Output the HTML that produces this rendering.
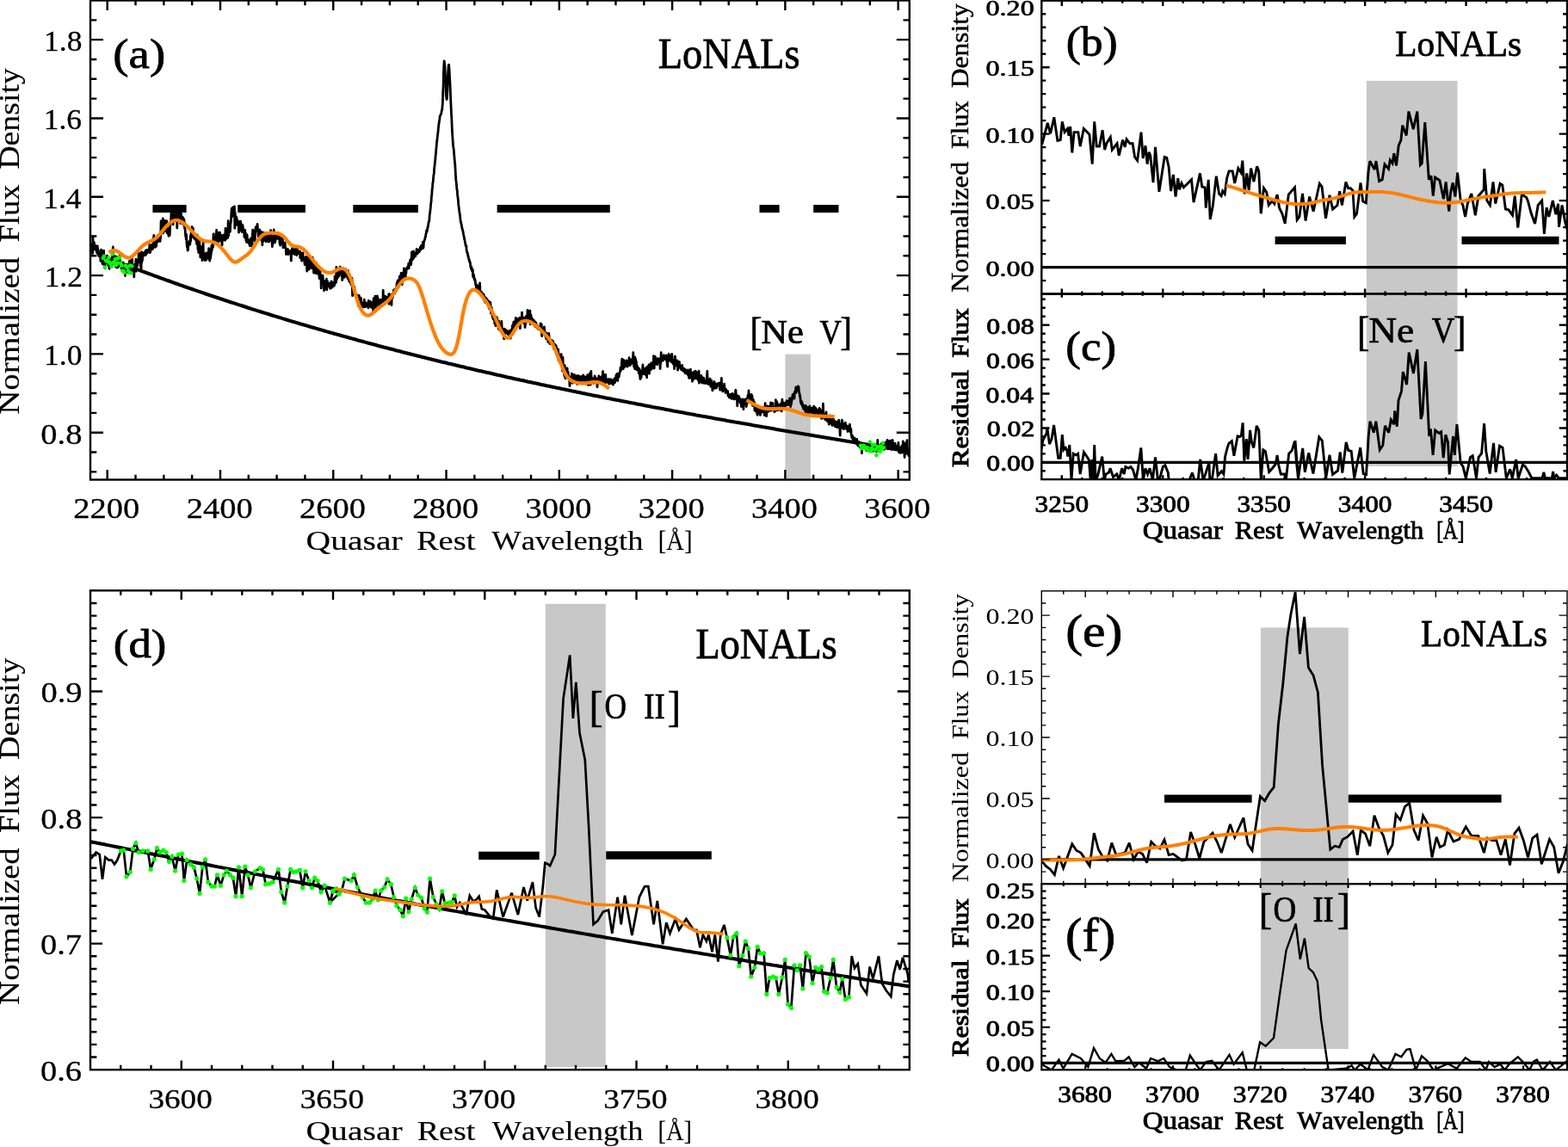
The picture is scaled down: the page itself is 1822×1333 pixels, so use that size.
<!DOCTYPE html>
<html><head><meta charset="utf-8"><title>LoNALs spectra</title><style>html,body{margin:0;padding:0;background:#fff;width:1822px;height:1333px;overflow:hidden}</style></head><body>
<svg width="1822" height="1333" viewBox="0 0 1822 1333" style="display:block;font-kerning:none">
<rect width="1822" height="1333" fill="#fff"/>
<defs><clipPath id="cA"><rect x="105.0" y="0.5" width="951.8" height="557.0"/></clipPath><clipPath id="cB"><rect x="1210.3" y="0.7" width="610.7" height="340.90000000000003"/></clipPath><clipPath id="cC"><rect x="1210.3" y="341.6" width="610.7" height="215.5"/></clipPath><clipPath id="cD"><rect x="105.0" y="686.3" width="951.8" height="556.9000000000001"/></clipPath><clipPath id="cE"><rect x="1210.3" y="686.8" width="610.7" height="340.5"/></clipPath><clipPath id="cF"><rect x="1210.3" y="1027.3" width="610.7" height="216.0"/></clipPath></defs>
<g clip-path="url(#cA)"><rect x="912.4" y="411.7" width="29.4" height="145.8" fill="#c8c8c8"/><path d="M122.0,298.8L125.0,299.9L128.0,301.1L131.0,302.3L134.0,303.4L137.0,304.6L140.0,305.7L143.0,306.9L146.0,308.0L149.0,309.2L152.0,310.3L155.0,311.4L158.0,312.6L161.0,313.7L164.0,314.8L167.0,315.9L170.0,317.0L173.0,318.1L176.0,319.2L179.0,320.3L182.0,321.4L185.0,322.5L188.0,323.6L191.0,324.7L194.0,325.8L197.0,326.8L200.0,327.9L203.0,329.0L206.0,330.0L209.0,331.1L212.0,332.1L215.0,333.2L218.0,334.2L221.0,335.3L224.0,336.3L227.0,337.4L230.0,338.4L233.0,339.4L236.0,340.4L239.0,341.5L242.0,342.5L245.0,343.5L248.0,344.5L251.0,345.5L254.0,346.5L257.0,347.5L260.0,348.5L263.0,349.5L266.0,350.5L269.0,351.5L272.0,352.4L275.0,353.4L278.0,354.4L281.0,355.3L284.0,356.3L287.0,357.3L290.0,358.2L293.0,359.2L296.0,360.1L299.0,361.1L302.0,362.0L305.0,363.0L308.0,363.9L311.0,364.8L314.0,365.8L317.0,366.7L320.0,367.6L323.0,368.5L326.0,369.4L329.0,370.4L332.0,371.3L335.0,372.2L338.0,373.1L341.0,374.0L344.0,374.9L347.0,375.8L350.0,376.7L353.0,377.5L356.0,378.4L359.0,379.3L362.0,380.2L365.0,381.0L368.0,381.9L371.0,382.8L374.0,383.6L377.0,384.5L380.0,385.4L383.0,386.2L386.0,387.1L389.0,387.9L392.0,388.8L395.0,389.6L398.0,390.4L401.0,391.3L404.0,392.1L407.0,392.9L410.0,393.8L413.0,394.6L416.0,395.4L419.0,396.2L422.0,397.0L425.0,397.9L428.0,398.7L431.0,399.5L434.0,400.3L437.0,401.1L440.0,401.9L443.0,402.7L446.0,403.5L449.0,404.2L452.0,405.0L455.0,405.8L458.0,406.6L461.0,407.4L464.0,408.1L467.0,408.9L470.0,409.7L473.0,410.4L476.0,411.2L479.0,412.0L482.0,412.7L485.0,413.5L488.0,414.2L491.0,415.0L494.0,415.7L497.0,416.5L500.0,417.2L503.0,418.0L506.0,418.7L509.0,419.4L512.0,420.2L515.0,420.9L518.0,421.6L521.0,422.4L524.0,423.1L527.0,423.8L530.0,424.5L533.0,425.2L536.0,425.9L539.0,426.6L542.0,427.4L545.0,428.1L548.0,428.8L551.0,429.5L554.0,430.2L557.0,430.9L560.0,431.6L563.0,432.2L566.0,432.9L569.0,433.6L572.0,434.3L575.0,435.0L578.0,435.7L581.0,436.3L584.0,437.0L587.0,437.7L590.0,438.4L593.0,439.0L596.0,439.7L599.0,440.4L602.0,441.0L605.0,441.7L608.0,442.3L611.0,443.0L614.0,443.7L617.0,444.3L620.0,445.0L623.0,445.6L626.0,446.2L629.0,446.9L632.0,447.5L635.0,448.2L638.0,448.8L641.0,449.4L644.0,450.1L647.0,450.7L650.0,451.3L653.0,452.0L656.0,452.6L659.0,453.2L662.0,453.8L665.0,454.5L668.0,455.1L671.0,455.7L674.0,456.3L677.0,456.9L680.0,457.5L683.0,458.2L686.0,458.8L689.0,459.4L692.0,460.0L695.0,460.6L698.0,461.2L701.0,461.8L704.0,462.4L707.0,463.0L710.0,463.6L713.0,464.2L716.0,464.8L719.0,465.3L722.0,465.9L725.0,466.5L728.0,467.1L731.0,467.7L734.0,468.3L737.0,468.8L740.0,469.4L743.0,470.0L746.0,470.6L749.0,471.2L752.0,471.7L755.0,472.3L758.0,472.9L761.0,473.4L764.0,474.0L767.0,474.6L770.0,475.1L773.0,475.7L776.0,476.3L779.0,476.8L782.0,477.4L785.0,477.9L788.0,478.5L791.0,479.1L794.0,479.6L797.0,480.2L800.0,480.7L803.0,481.3L806.0,481.8L809.0,482.4L812.0,482.9L815.0,483.5L818.0,484.0L821.0,484.5L824.0,485.1L827.0,485.6L830.0,486.2L833.0,486.7L836.0,487.3L839.0,487.8L842.0,488.3L845.0,488.9L848.0,489.4L851.0,489.9L854.0,490.5L857.0,491.0L860.0,491.5L863.0,492.1L866.0,492.6L869.0,493.1L872.0,493.6L875.0,494.2L878.0,494.7L881.0,495.2L884.0,495.7L887.0,496.3L890.0,496.8L893.0,497.3L896.0,497.8L899.0,498.3L902.0,498.9L905.0,499.4L908.0,499.9L911.0,500.4L914.0,500.9L917.0,501.4L920.0,502.0L923.0,502.5L926.0,503.0L929.0,503.5L932.0,504.0L935.0,504.5L938.0,505.0L941.0,505.5L944.0,506.0L947.0,506.6L950.0,507.1L953.0,507.6L956.0,508.1L959.0,508.6L962.0,509.1L965.0,509.6L968.0,510.1L971.0,510.6L974.0,511.1L977.0,511.6L980.0,512.1L983.0,512.6L986.0,513.1L989.0,513.6L992.0,514.1L995.0,514.6L998.0,515.1L1001.0,515.6L1004.0,516.1L1007.0,516.6L1010.0,517.1L1013.0,517.6L1016.0,518.1L1019.0,518.6L1022.0,519.1L1025.0,519.6L1028.0,520.1L1031.0,520.6L1034.0,521.1L1037.0,521.6L1040.0,522.1L1043.0,522.6L1046.0,523.1L1049.0,523.6L1052.0,524.1L1055.0,524.6L1056.8,524.9" stroke="#000" stroke-width="4.1" fill="none"/><path d="M105.8,288.9L106.1,284.2L106.5,289.1L106.8,286.6L107.2,289.8L107.6,294.6L107.9,275.0L108.3,287.7L108.6,290.3L109.0,287.3L109.4,281.7L109.7,287.4L110.1,290.1L110.4,290.0L110.8,285.3L111.2,285.6L111.5,289.5L111.9,286.1L112.2,290.9L112.6,293.8L113.0,293.1L113.3,285.8L113.7,295.5L114.0,290.2L114.4,291.5L114.8,297.7L115.1,294.1L115.5,294.4L115.8,295.0L116.2,295.7L116.6,297.8L116.9,303.4L117.3,294.4L117.6,290.2L118.0,301.5L118.4,299.2L118.7,301.7L119.1,306.6L119.4,304.0L119.8,301.4L120.2,305.2L120.5,291.2L120.9,298.0L121.2,310.0L121.6,306.5L122.0,311.9L122.3,304.4L122.7,302.9L123.0,300.8L123.4,304.9L123.8,301.9L124.1,305.4L124.5,297.2L124.8,300.9L125.2,303.2L125.6,304.2L125.9,308.6L126.3,302.5L126.6,304.4L127.0,312.4L127.4,305.2L127.7,308.5L128.1,305.5L128.4,307.4L128.8,308.5L129.2,307.2L129.5,310.1L129.9,301.2L130.2,307.6L130.6,295.0L131.0,300.9L131.3,287.0L131.7,305.6L132.0,298.3L132.4,296.8L132.8,305.1L133.1,301.2L133.5,306.6L133.8,306.3L134.2,309.5L134.6,298.1L134.9,305.3L135.3,310.8L135.6,298.5L136.0,302.4L136.4,306.4L136.7,310.9L137.1,306.2L137.4,308.8L137.8,309.6L138.2,301.2L138.5,303.6L138.9,305.8L139.2,297.1L139.6,308.3L140.0,307.4L140.3,308.2L140.7,307.1L141.0,311.4L141.4,307.6L141.8,314.5L142.1,306.1L142.5,311.6L142.8,304.8L143.2,308.0L143.6,311.0L143.9,307.5L144.3,312.1L144.6,313.9L145.0,310.8L145.4,320.5L145.7,307.1L146.1,308.0L146.4,314.4L146.8,312.9L147.2,307.2L147.5,316.5L147.9,307.4L148.2,311.1L148.6,310.6L149.0,311.6L149.3,314.5L149.7,316.0L150.0,314.9L150.4,303.5L150.8,313.4L151.1,306.5L151.5,310.6L151.8,308.2L152.2,317.1L152.6,310.9L152.9,301.3L153.3,310.6L153.6,301.2L154.0,313.0L154.4,312.4L154.7,313.8L155.1,315.5L155.4,308.7L155.8,321.9L156.2,307.6L156.5,308.8L156.9,313.8L157.2,306.9L157.6,305.9L158.0,301.2L158.3,315.3L158.7,303.6L159.0,305.7L159.4,308.4L159.8,308.7L160.1,305.2L160.5,305.1L160.8,304.0L161.2,293.7L161.6,303.6L161.9,296.8L162.3,304.6L162.6,305.3L163.0,294.9L163.4,310.1L163.7,300.7L164.1,312.6L164.4,292.8L164.8,304.8L165.2,298.5L165.5,302.5L165.9,293.7L166.2,295.7L166.6,295.7L167.0,296.0L167.3,296.8L167.7,296.9L168.0,295.9L168.4,292.9L168.8,292.3L169.1,296.7L169.5,290.8L169.8,295.7L170.2,294.8L170.6,290.7L170.9,294.2L171.3,290.8L171.6,290.4L172.0,293.2L172.4,290.3L172.7,293.2L173.1,293.0L173.4,292.8L173.8,284.7L174.2,293.5L174.5,293.3L174.9,291.7L175.2,286.5L175.6,288.5L176.0,286.9L176.3,284.4L176.7,286.8L177.0,285.9L177.4,289.5L177.8,287.4L178.1,287.2L178.5,276.3L178.8,273.4L179.2,286.8L179.6,283.1L179.9,282.3L180.3,287.3L180.6,282.9L181.0,281.3L181.4,280.3L181.7,286.2L182.1,275.8L182.4,282.0L182.8,275.7L183.2,274.0L183.5,280.5L183.9,276.8L184.2,273.6L184.6,278.8L185.0,275.7L185.3,275.1L185.7,272.2L186.0,280.5L186.4,277.9L186.8,270.6L187.1,256.8L187.5,264.7L187.8,269.9L188.2,261.9L188.6,269.9L188.9,262.8L189.3,253.9L189.6,271.0L190.0,264.5L190.4,261.6L190.7,265.9L191.1,268.7L191.4,256.3L191.8,265.0L192.2,258.0L192.5,263.2L192.9,259.0L193.2,268.9L193.6,256.6L194.0,265.6L194.3,270.8L194.7,268.2L195.0,266.2L195.4,269.1L195.8,273.3L196.1,274.3L196.5,265.9L196.8,265.0L197.2,273.4L197.6,263.8L197.9,259.8L198.3,259.3L198.6,258.4L199.0,247.1L199.4,258.9L199.7,251.0L200.1,253.3L200.4,245.3L200.8,252.1L201.2,260.9L201.5,249.1L201.9,255.2L202.2,252.0L202.6,251.7L203.0,254.3L203.3,252.9L203.7,244.7L204.0,252.2L204.4,251.1L204.8,249.0L205.1,250.4L205.5,246.8L205.8,265.0L206.2,246.8L206.6,247.4L206.9,244.8L207.3,242.6L207.6,247.9L208.0,252.4L208.4,247.0L208.7,243.8L209.1,251.2L209.4,255.8L209.8,259.5L210.2,251.8L210.5,248.5L210.9,253.4L211.2,255.0L211.6,256.7L212.0,256.5L212.3,252.4L212.7,260.6L213.0,256.8L213.4,254.1L213.8,255.4L214.1,257.0L214.5,265.3L214.8,264.3L215.2,267.7L215.6,274.4L215.9,273.7L216.3,278.3L216.6,272.3L217.0,282.9L217.4,287.2L217.7,283.4L218.1,291.1L218.4,290.8L218.8,284.4L219.2,283.5L219.5,281.8L219.9,280.4L220.2,281.8L220.6,284.3L221.0,282.5L221.3,274.3L221.7,279.9L222.0,270.8L222.4,275.7L222.8,274.4L223.1,263.7L223.5,274.9L223.8,273.0L224.2,264.8L224.6,271.1L224.9,276.2L225.3,274.4L225.6,272.5L226.0,271.7L226.4,277.8L226.7,278.1L227.1,278.2L227.4,275.4L227.8,279.7L228.2,272.8L228.5,283.5L228.9,281.8L229.2,273.1L229.6,282.1L230.0,289.9L230.3,284.8L230.7,293.5L231.0,284.6L231.4,291.9L231.8,280.7L232.1,288.4L232.5,285.9L232.8,298.9L233.2,291.5L233.6,291.3L233.9,291.7L234.3,286.7L234.6,292.9L235.0,302.8L235.4,301.9L235.7,295.4L236.1,282.0L236.4,296.0L236.8,296.6L237.2,297.5L237.5,299.0L237.9,300.8L238.2,302.5L238.6,299.1L239.0,294.3L239.3,296.4L239.7,302.1L240.0,294.0L240.4,298.2L240.8,300.4L241.1,298.0L241.5,295.6L241.8,294.7L242.2,298.8L242.6,288.7L242.9,289.5L243.3,301.5L243.6,303.1L244.0,295.0L244.4,300.9L244.7,298.7L245.1,295.5L245.4,294.6L245.8,285.4L246.2,291.3L246.5,287.7L246.9,285.5L247.2,282.2L247.6,287.3L248.0,272.0L248.3,271.8L248.7,278.0L249.0,278.8L249.4,277.1L249.8,278.2L250.1,275.8L250.5,280.1L250.8,276.5L251.2,277.9L251.6,267.4L251.9,279.3L252.3,275.7L252.6,275.9L253.0,275.8L253.4,270.5L253.7,281.2L254.1,278.2L254.4,273.5L254.8,278.1L255.2,279.4L255.5,270.1L255.9,275.1L256.2,273.9L256.6,276.7L257.0,280.5L257.3,273.4L257.7,281.3L258.0,284.9L258.4,276.4L258.8,279.1L259.1,275.9L259.5,276.5L259.8,273.2L260.2,274.4L260.6,278.9L260.9,272.6L261.3,278.8L261.6,279.3L262.0,265.4L262.4,271.0L262.7,277.7L263.1,271.8L263.4,270.1L263.8,265.8L264.2,272.0L264.5,276.7L264.9,268.6L265.2,256.7L265.6,274.1L266.0,263.9L266.3,266.1L266.7,266.1L267.0,266.8L267.4,269.3L267.8,260.0L268.1,259.4L268.5,256.0L268.8,248.3L269.2,242.3L269.6,252.0L269.9,248.0L270.3,248.2L270.6,240.8L271.0,249.9L271.4,249.4L271.7,249.9L272.1,247.2L272.4,239.9L272.8,265.3L273.2,247.1L273.5,254.6L273.9,255.2L274.2,261.7L274.6,252.0L275.0,261.2L275.3,254.5L275.7,258.0L276.0,258.3L276.4,259.4L276.8,259.5L277.1,259.5L277.5,270.1L277.8,257.3L278.2,265.9L278.6,261.3L278.9,266.6L279.3,267.1L279.6,257.1L280.0,264.2L280.4,268.3L280.7,262.8L281.1,269.5L281.4,262.5L281.8,261.3L282.2,263.1L282.5,267.8L282.9,269.0L283.2,267.9L283.6,270.4L284.0,275.7L284.3,268.7L284.7,267.3L285.0,273.2L285.4,272.0L285.8,279.3L286.1,271.7L286.5,281.4L286.8,272.8L287.2,273.9L287.6,281.6L287.9,279.3L288.3,279.6L288.6,281.9L289.0,281.9L289.4,282.9L289.7,278.8L290.1,284.9L290.4,285.6L290.8,282.0L291.2,277.3L291.5,276.9L291.9,281.3L292.2,281.4L292.6,278.6L293.0,287.6L293.3,274.3L293.7,267.2L294.0,274.7L294.4,272.0L294.8,278.6L295.1,272.0L295.5,271.1L295.8,268.8L296.2,280.1L296.6,270.7L296.9,265.4L297.3,263.8L297.6,268.5L298.0,267.6L298.4,266.7L298.7,264.8L299.1,260.3L299.4,265.2L299.8,268.8L300.2,273.3L300.5,276.3L300.9,275.0L301.2,271.5L301.6,266.8L302.0,267.6L302.3,269.3L302.7,270.4L303.0,275.1L303.4,269.3L303.8,278.9L304.1,279.8L304.5,269.9L304.8,284.6L305.2,273.4L305.6,276.1L305.9,280.5L306.3,270.3L306.6,273.3L307.0,274.1L307.4,275.0L307.7,272.7L308.1,274.1L308.4,275.6L308.8,280.0L309.2,280.9L309.5,270.4L309.9,273.9L310.2,278.9L310.6,273.4L311.0,272.1L311.3,278.7L311.7,272.9L312.0,281.0L312.4,276.6L312.8,279.4L313.1,280.4L313.5,276.3L313.8,274.9L314.2,277.8L314.6,267.6L314.9,273.1L315.3,278.8L315.6,270.5L316.0,279.9L316.4,286.7L316.7,274.3L317.1,283.7L317.4,278.7L317.8,281.5L318.2,267.0L318.5,274.5L318.9,274.1L319.2,278.7L319.6,281.8L320.0,279.5L320.3,274.3L320.7,276.4L321.0,271.4L321.4,277.5L321.8,273.9L322.1,271.0L322.5,274.8L322.8,272.2L323.2,270.6L323.6,274.1L323.9,274.1L324.3,278.3L324.6,276.5L325.0,283.1L325.4,284.0L325.7,285.2L326.1,280.2L326.4,276.5L326.8,275.9L327.2,277.2L327.5,281.0L327.9,278.9L328.2,276.6L328.6,281.1L329.0,287.8L329.3,285.9L329.7,283.6L330.0,286.7L330.4,286.3L330.8,285.5L331.1,281.9L331.5,288.1L331.8,287.6L332.2,289.5L332.6,295.6L332.9,292.8L333.3,293.8L333.6,292.1L334.0,294.0L334.4,289.3L334.7,294.8L335.1,295.6L335.4,292.3L335.8,293.1L336.2,294.3L336.5,292.5L336.9,291.6L337.2,294.4L337.6,294.0L338.0,293.6L338.3,303.0L338.7,290.9L339.0,292.8L339.4,288.7L339.8,293.5L340.1,290.3L340.5,294.2L340.8,292.6L341.2,289.7L341.6,295.4L341.9,294.5L342.3,295.0L342.6,295.5L343.0,291.5L343.4,289.2L343.7,290.0L344.1,286.3L344.4,291.0L344.8,296.6L345.2,291.8L345.5,289.8L345.9,294.6L346.2,291.8L346.6,294.6L347.0,294.7L347.3,294.6L347.7,293.1L348.0,292.1L348.4,291.9L348.8,299.6L349.1,298.5L349.5,293.7L349.8,298.5L350.2,299.3L350.6,303.2L350.9,298.5L351.3,301.2L351.6,295.5L352.0,293.9L352.4,299.8L352.7,298.7L353.1,299.3L353.4,301.0L353.8,304.6L354.2,307.5L354.5,299.4L354.9,302.2L355.2,301.2L355.6,299.7L356.0,298.3L356.3,300.9L356.7,315.1L357.0,306.8L357.4,306.9L357.8,304.3L358.1,313.4L358.5,303.1L358.8,297.9L359.2,313.0L359.6,307.2L359.9,309.1L360.3,306.7L360.6,301.7L361.0,303.6L361.4,306.7L361.7,308.6L362.1,311.6L362.4,303.8L362.8,307.2L363.2,299.2L363.5,310.5L363.9,309.3L364.2,310.8L364.6,317.1L365.0,313.2L365.3,307.7L365.7,317.2L366.0,313.0L366.4,316.0L366.8,313.2L367.1,317.2L367.5,305.7L367.8,311.5L368.2,318.2L368.6,311.2L368.9,313.0L369.3,310.2L369.6,316.1L370.0,314.2L370.4,312.3L370.7,317.5L371.1,323.6L371.4,316.2L371.8,312.2L372.2,320.0L372.5,322.7L372.9,319.5L373.2,334.9L373.6,323.2L374.0,325.4L374.3,329.1L374.7,329.6L375.0,320.2L375.4,324.3L375.8,325.5L376.1,327.6L376.5,337.8L376.8,326.7L377.2,330.6L377.6,334.6L377.9,334.7L378.3,332.3L378.6,335.5L379.0,331.8L379.4,324.2L379.7,336.9L380.1,330.0L380.4,326.6L380.8,330.2L381.2,331.1L381.5,330.7L381.9,329.2L382.2,333.0L382.6,330.1L383.0,329.8L383.3,332.3L383.7,335.3L384.0,329.6L384.4,328.3L384.8,331.7L385.1,327.0L385.5,334.3L385.8,330.3L386.2,328.1L386.6,330.6L386.9,330.8L387.3,332.8L387.6,328.7L388.0,329.5L388.4,331.9L388.7,330.6L389.1,321.2L389.4,329.4L389.8,321.9L390.2,327.9L390.5,328.2L390.9,310.3L391.2,325.0L391.6,321.9L392.0,316.4L392.3,323.0L392.7,315.4L393.0,318.9L393.4,317.4L393.8,317.3L394.1,320.9L394.5,315.6L394.8,315.1L395.2,310.1L395.6,313.4L395.9,316.7L396.3,318.5L396.6,319.0L397.0,313.9L397.4,316.0L397.7,325.7L398.1,321.4L398.4,315.6L398.8,314.5L399.2,317.3L399.5,312.9L399.9,322.5L400.2,320.5L400.6,321.6L401.0,318.9L401.3,312.3L401.7,312.9L402.0,315.2L402.4,320.0L402.8,317.5L403.1,321.6L403.5,318.6L403.8,321.0L404.2,323.9L404.6,314.7L404.9,323.2L405.3,323.4L405.6,326.6L406.0,325.6L406.4,325.6L406.7,328.0L407.1,328.7L407.4,326.7L407.8,326.6L408.2,331.1L408.5,328.3L408.9,323.2L409.2,327.4L409.6,343.7L410.0,331.9L410.3,333.4L410.7,333.4L411.0,332.8L411.4,335.3L411.8,333.1L412.1,339.2L412.5,341.3L412.8,342.0L413.2,343.2L413.6,343.2L413.9,343.0L414.3,346.9L414.6,343.9L415.0,342.9L415.4,345.8L415.7,346.6L416.1,348.7L416.4,355.2L416.8,353.8L417.2,343.3L417.5,352.4L417.9,351.2L418.2,351.1L418.6,348.9L419.0,350.9L419.3,346.2L419.7,349.7L420.0,357.4L420.4,354.8L420.8,352.2L421.1,356.2L421.5,355.1L421.8,355.2L422.2,355.5L422.6,357.0L422.9,356.0L423.3,348.1L423.6,355.5L424.0,352.7L424.4,352.5L424.7,356.5L425.1,355.2L425.4,351.9L425.8,356.0L426.2,353.2L426.5,355.8L426.9,355.6L427.2,355.2L427.6,354.0L428.0,357.9L428.3,349.4L428.7,353.4L429.0,352.6L429.4,350.7L429.8,351.5L430.1,353.0L430.5,350.3L430.8,355.9L431.2,357.2L431.6,357.3L431.9,356.0L432.3,355.6L432.6,357.5L433.0,351.3L433.4,351.5L433.7,362.0L434.1,347.0L434.4,356.3L434.8,350.7L435.2,356.6L435.5,354.6L435.9,344.1L436.2,351.0L436.6,357.6L437.0,355.7L437.3,348.9L437.7,350.6L438.0,353.5L438.4,344.0L438.8,348.3L439.1,346.2L439.5,352.0L439.8,350.5L440.2,358.3L440.6,353.8L440.9,356.6L441.3,350.4L441.6,350.4L442.0,348.3L442.4,355.3L442.7,351.2L443.1,350.9L443.4,348.6L443.8,348.3L444.2,353.6L444.5,353.4L444.9,350.9L445.2,337.3L445.6,348.8L446.0,347.1L446.3,348.6L446.7,351.8L447.0,345.9L447.4,346.6L447.8,344.2L448.1,347.6L448.5,346.4L448.8,347.4L449.2,348.6L449.6,349.5L449.9,345.4L450.3,345.8L450.6,347.6L451.0,346.8L451.4,348.8L451.7,341.8L452.1,353.3L452.4,341.6L452.8,345.4L453.2,345.2L453.5,346.1L453.9,343.6L454.2,344.9L454.6,347.6L455.0,354.7L455.3,343.8L455.7,341.7L456.0,345.3L456.4,345.7L456.8,341.7L457.1,342.2L457.5,337.1L457.8,337.8L458.2,341.4L458.6,336.2L458.9,338.5L459.3,339.9L459.6,337.0L460.0,338.7L460.4,337.8L460.7,337.4L461.1,329.8L461.4,328.1L461.8,333.5L462.2,325.9L462.5,330.7L462.9,334.0L463.2,329.0L463.6,333.0L464.0,328.3L464.3,321.1L464.7,327.2L465.0,323.2L465.4,320.8L465.8,323.7L466.1,317.4L466.5,319.2L466.8,321.4L467.2,330.6L467.6,322.4L467.9,319.0L468.3,316.9L468.6,321.9L469.0,322.3L469.4,311.9L469.7,314.5L470.1,316.6L470.4,312.4L470.8,317.1L471.2,324.4L471.5,315.4L471.9,317.3L472.2,312.2L472.6,313.1L473.0,312.2L473.3,310.3L473.7,311.7L474.0,310.2L474.4,309.3L474.8,306.2L475.1,312.0L475.5,307.4L475.8,306.6L476.2,307.5L476.6,302.4L476.9,301.8L477.3,303.4L477.6,307.7L478.0,303.7L478.4,293.0L478.7,301.7L479.1,297.8L479.4,301.7L479.8,299.3L480.2,300.6L480.5,292.0L480.9,299.6L481.2,297.5L481.6,296.1L482.0,294.1L482.3,295.4L482.7,297.8L483.0,294.3L483.4,295.4L483.8,294.3L484.1,289.5L484.5,294.4L484.8,295.1L485.2,291.6L485.6,294.1L485.9,290.4L486.3,292.6L486.6,290.9L487.0,292.9L487.4,290.2L487.7,291.8L488.1,288.2L488.4,287.1L488.8,290.4L489.2,286.5L489.5,285.5L489.9,288.5L490.2,285.9L490.6,287.0L491.0,288.9L491.3,281.3L491.7,282.9L492.0,287.8L492.4,282.0L492.8,280.1L493.1,279.5L493.5,278.7L493.8,277.8L494.2,275.0L494.6,275.5L494.9,271.5L495.3,271.0L495.6,268.0L496.0,269.3L496.4,268.0L496.7,264.7L497.1,264.3L497.4,263.2L497.8,259.9L498.2,258.0L498.5,257.6L498.9,255.0L499.2,249.7L499.6,247.9L500.0,243.9L500.3,241.9L500.7,236.2L501.0,235.4L501.4,228.3L501.8,226.2L502.1,219.9L502.5,218.4L502.8,213.0L503.2,211.7L503.6,206.2L503.9,203.4L504.3,201.9L504.6,195.7L505.0,193.0L505.4,188.7L505.7,186.3L506.1,181.4L506.4,178.7L506.8,174.0L507.2,169.5L507.5,166.0L507.9,162.5L508.2,160.1L508.6,156.5L509.0,153.3L509.3,149.9L509.7,145.8L510.0,143.7L510.4,140.9L510.8,139.3L511.1,135.2L511.5,134.4L511.8,134.4L512.2,132.9L512.6,131.9L512.9,130.5L513.3,128.4L513.6,128.3L514.0,124.2L514.4,119.5L514.7,107.6L515.1,100.3L515.4,84.4L515.8,76.1L516.2,70.9L516.5,73.1L516.9,75.9L517.2,82.9L517.6,89.8L518.0,97.4L518.3,110.0L518.7,112.9L519.0,115.7L519.4,114.1L519.8,107.8L520.1,98.0L520.5,86.3L520.8,81.5L521.2,76.0L521.6,75.3L521.9,78.4L522.3,84.8L522.6,91.0L523.0,98.2L523.4,107.7L523.7,116.1L524.1,123.9L524.4,132.0L524.8,137.1L525.2,148.0L525.5,153.9L525.9,159.9L526.2,164.6L526.6,169.6L527.0,172.0L527.3,174.7L527.7,179.4L528.0,183.5L528.4,187.6L528.8,191.3L529.1,197.3L529.5,204.3L529.8,209.4L530.2,211.5L530.6,216.3L530.9,220.3L531.3,221.2L531.6,227.3L532.0,229.2L532.4,233.0L532.7,237.5L533.1,240.1L533.4,242.9L533.8,246.3L534.2,248.6L534.5,250.3L534.9,254.2L535.2,257.4L535.6,257.9L536.0,260.8L536.3,260.8L536.7,264.3L537.0,265.6L537.4,266.3L537.8,268.5L538.1,269.2L538.5,272.0L538.8,273.7L539.2,275.1L539.6,278.0L539.9,278.3L540.3,280.9L540.6,282.5L541.0,285.1L541.4,285.9L541.7,285.3L542.1,289.7L542.4,291.8L542.8,293.8L543.2,293.5L543.5,295.5L543.9,298.1L544.2,297.7L544.6,300.6L545.0,301.6L545.3,303.5L545.7,302.8L546.0,305.4L546.4,305.2L546.8,310.3L547.1,309.5L547.5,312.5L547.8,310.1L548.2,313.4L548.6,315.3L548.9,314.9L549.3,313.0L549.6,321.8L550.0,321.5L550.4,319.2L550.7,320.6L551.1,324.9L551.4,324.3L551.8,324.2L552.2,326.5L552.5,329.8L552.9,331.8L553.2,331.3L553.6,335.4L554.0,334.1L554.3,331.3L554.7,335.4L555.0,332.6L555.4,334.2L555.8,335.7L556.1,336.7L556.5,338.4L556.8,337.3L557.2,335.1L557.6,329.0L557.9,338.0L558.3,338.2L558.6,340.7L559.0,341.5L559.4,343.1L559.7,340.5L560.1,339.9L560.4,343.9L560.8,343.9L561.2,343.1L561.5,346.4L561.9,343.5L562.2,342.2L562.6,346.8L563.0,349.6L563.3,345.1L563.7,351.3L564.0,351.6L564.4,348.6L564.8,346.3L565.1,348.9L565.5,348.2L565.8,352.0L566.2,348.0L566.6,353.3L566.9,352.9L567.3,352.9L567.6,356.3L568.0,350.2L568.4,358.8L568.7,356.2L569.1,358.8L569.4,352.4L569.8,351.4L570.2,358.9L570.5,364.0L570.9,362.1L571.2,357.4L571.6,364.6L572.0,365.4L572.3,368.3L572.7,366.4L573.0,370.7L573.4,367.8L573.8,371.4L574.1,366.8L574.5,370.5L574.8,375.9L575.2,372.2L575.6,367.6L575.9,378.6L576.3,369.1L576.6,375.7L577.0,371.6L577.4,368.9L577.7,371.5L578.1,373.8L578.4,378.4L578.8,375.7L579.2,382.1L579.5,372.9L579.9,383.0L580.2,377.2L580.6,378.9L581.0,379.3L581.3,379.7L581.7,381.1L582.0,380.5L582.4,380.4L582.8,373.4L583.1,378.5L583.5,385.1L583.8,381.6L584.2,382.4L584.6,385.1L584.9,384.4L585.3,385.7L585.6,393.8L586.0,387.5L586.4,382.2L586.7,388.8L587.1,383.2L587.4,386.3L587.8,384.5L588.2,383.7L588.5,385.2L588.9,386.4L589.2,387.0L589.6,384.6L590.0,388.2L590.3,386.6L590.7,388.8L591.0,387.2L591.4,386.0L591.8,386.9L592.1,387.1L592.5,384.2L592.8,387.0L593.2,393.1L593.6,386.0L593.9,387.8L594.3,385.3L594.6,382.7L595.0,384.6L595.4,378.3L595.7,385.0L596.1,381.5L596.4,378.8L596.8,374.4L597.2,373.9L597.5,382.7L597.9,381.4L598.2,376.4L598.6,376.7L599.0,376.9L599.3,369.4L599.7,373.0L600.0,376.8L600.4,372.7L600.8,370.8L601.1,373.4L601.5,370.9L601.8,374.8L602.2,373.4L602.6,370.3L602.9,375.5L603.3,376.6L603.6,369.4L604.0,371.9L604.4,381.7L604.7,370.7L605.1,373.3L605.4,374.9L605.8,368.5L606.2,370.7L606.5,363.2L606.9,371.6L607.2,373.7L607.6,369.7L608.0,371.1L608.3,369.2L608.7,375.7L609.0,371.7L609.4,369.6L609.8,374.9L610.1,380.5L610.5,369.7L610.8,376.7L611.2,367.6L611.6,372.8L611.9,373.9L612.3,372.6L612.6,373.5L613.0,360.5L613.4,369.5L613.7,371.2L614.1,370.7L614.4,365.0L614.8,370.6L615.2,371.0L615.5,361.1L615.9,361.3L616.2,376.9L616.6,374.4L617.0,366.2L617.3,371.1L617.7,369.2L618.0,373.2L618.4,370.1L618.8,372.2L619.1,373.3L619.5,372.7L619.8,376.3L620.2,375.8L620.6,372.3L620.9,378.4L621.3,373.9L621.6,375.6L622.0,375.5L622.4,379.8L622.7,375.0L623.1,376.6L623.4,378.9L623.8,379.2L624.2,378.8L624.5,378.4L624.9,382.2L625.2,379.8L625.6,379.6L626.0,380.1L626.3,380.7L626.7,382.8L627.0,383.0L627.4,380.5L627.8,382.8L628.1,376.0L628.5,381.1L628.8,381.8L629.2,376.6L629.6,390.5L629.9,388.1L630.3,383.0L630.6,385.1L631.0,386.3L631.4,387.2L631.7,386.9L632.1,382.9L632.4,379.8L632.8,384.6L633.2,390.1L633.5,390.0L633.9,386.9L634.2,391.0L634.6,393.5L635.0,386.8L635.3,393.4L635.7,390.5L636.0,392.5L636.4,390.8L636.8,397.3L637.1,390.8L637.5,395.2L637.8,387.5L638.2,393.4L638.6,394.5L638.9,399.5L639.3,396.5L639.6,395.5L640.0,395.9L640.4,395.9L640.7,395.1L641.1,399.2L641.4,400.1L641.8,398.1L642.2,396.8L642.5,396.2L642.9,399.1L643.2,401.6L643.6,405.6L644.0,399.9L644.3,403.2L644.7,400.2L645.0,400.6L645.4,405.5L645.8,406.1L646.1,401.7L646.5,403.4L646.8,408.7L647.2,408.2L647.6,412.9L647.9,407.4L648.3,408.4L648.6,406.0L649.0,418.8L649.4,411.3L649.7,417.4L650.1,416.2L650.4,421.0L650.8,412.7L651.2,416.6L651.5,421.9L651.9,419.4L652.2,411.6L652.6,423.3L653.0,417.0L653.3,426.8L653.7,431.3L654.0,415.3L654.4,427.2L654.8,427.4L655.1,427.4L655.5,431.0L655.8,436.8L656.2,424.7L656.6,431.8L656.9,439.8L657.3,434.1L657.6,435.6L658.0,434.3L658.4,428.5L658.7,434.0L659.1,428.0L659.4,433.8L659.8,439.1L660.2,432.6L660.5,438.1L660.9,437.1L661.2,437.1L661.6,439.7L662.0,448.6L662.3,444.5L662.7,442.6L663.0,442.8L663.4,439.3L663.8,438.6L664.1,440.4L664.5,434.1L664.8,444.3L665.2,445.3L665.6,440.5L665.9,440.8L666.3,441.5L666.6,441.2L667.0,442.0L667.4,435.3L667.7,439.6L668.1,439.7L668.4,438.3L668.8,442.7L669.2,443.6L669.5,444.6L669.9,441.2L670.2,436.7L670.6,446.5L671.0,441.4L671.3,441.3L671.7,444.7L672.0,436.6L672.4,436.8L672.8,443.0L673.1,439.3L673.5,437.4L673.8,444.8L674.2,440.6L674.6,438.1L674.9,443.9L675.3,437.9L675.6,438.2L676.0,438.6L676.4,437.2L676.7,440.4L677.1,442.2L677.4,440.0L677.8,436.0L678.2,438.4L678.5,441.4L678.9,445.8L679.2,441.4L679.6,438.7L680.0,441.8L680.3,438.0L680.7,439.6L681.0,441.9L681.4,446.1L681.8,442.6L682.1,444.9L682.5,443.4L682.8,435.6L683.2,437.8L683.6,447.5L683.9,444.5L684.3,442.7L684.6,438.7L685.0,442.0L685.4,433.8L685.7,442.7L686.1,447.1L686.4,440.2L686.8,431.5L687.2,440.7L687.5,440.8L687.9,440.7L688.2,443.0L688.6,439.7L689.0,440.2L689.3,441.8L689.7,445.4L690.0,441.3L690.4,443.0L690.8,441.8L691.1,437.0L691.5,439.8L691.8,440.2L692.2,442.8L692.6,440.3L692.9,439.7L693.3,443.7L693.6,440.3L694.0,449.8L694.4,443.2L694.7,440.0L695.1,442.9L695.4,442.4L695.8,437.0L696.2,440.7L696.5,439.9L696.9,438.7L697.2,441.4L697.6,442.8L698.0,442.4L698.3,440.9L698.7,438.8L699.0,437.6L699.4,440.0L699.8,440.1L700.1,443.5L700.5,431.6L700.8,439.5L701.2,437.0L701.6,438.4L701.9,443.6L702.3,435.7L702.6,444.9L703.0,437.0L703.4,440.3L703.7,435.4L704.1,440.4L704.4,444.4L704.8,443.1L705.2,444.2L705.5,443.4L705.9,441.3L706.2,442.3L706.6,440.8L707.0,440.7L707.3,444.8L707.7,446.2L708.0,444.6L708.4,441.6L708.8,444.7L709.1,443.7L709.5,440.6L709.8,442.9L710.2,445.6L710.6,443.9L710.9,442.3L711.3,443.1L711.6,444.1L712.0,441.7L712.4,447.1L712.7,444.4L713.1,444.5L713.4,444.2L713.8,444.3L714.2,439.6L714.5,444.6L714.9,440.1L715.2,440.0L715.6,441.8L716.0,435.6L716.3,439.5L716.7,441.8L717.0,436.6L717.4,434.2L717.8,442.5L718.1,436.7L718.5,434.9L718.8,434.5L719.2,438.0L719.6,434.8L719.9,433.8L720.3,432.2L720.6,432.0L721.0,427.0L721.4,426.5L721.7,430.0L722.1,428.7L722.4,422.8L722.8,417.2L723.2,428.0L723.5,423.7L723.9,427.8L724.2,428.6L724.6,418.2L725.0,419.2L725.3,426.7L725.7,423.8L726.0,425.4L726.4,423.1L726.8,422.0L727.1,421.0L727.5,420.7L727.8,419.0L728.2,425.7L728.6,424.5L728.9,426.2L729.3,419.8L729.6,423.0L730.0,425.2L730.4,420.4L730.7,419.8L731.1,415.6L731.4,421.9L731.8,422.9L732.2,420.0L732.5,424.5L732.9,417.8L733.2,420.7L733.6,421.7L734.0,419.3L734.3,422.2L734.7,421.2L735.0,417.1L735.4,418.0L735.8,409.6L736.1,418.3L736.5,425.9L736.8,417.0L737.2,417.7L737.6,428.7L737.9,415.2L738.3,418.5L738.6,417.1L739.0,419.6L739.4,420.4L739.7,429.8L740.1,426.4L740.4,425.0L740.8,427.6L741.2,426.9L741.5,428.1L741.9,430.4L742.2,433.6L742.6,430.2L743.0,428.5L743.3,435.1L743.7,437.9L744.0,440.6L744.4,433.4L744.8,434.0L745.1,438.8L745.5,430.9L745.8,432.7L746.2,431.0L746.6,430.5L746.9,423.9L747.3,428.2L747.6,434.5L748.0,430.8L748.4,433.8L748.7,432.3L749.1,432.8L749.4,428.6L749.8,430.4L750.2,435.7L750.5,428.2L750.9,433.1L751.2,426.8L751.6,438.8L752.0,429.0L752.3,430.8L752.7,425.9L753.0,431.9L753.4,429.0L753.8,424.9L754.1,423.9L754.5,434.2L754.8,425.7L755.2,426.4L755.6,423.2L755.9,426.0L756.3,429.7L756.6,425.2L757.0,421.7L757.4,428.7L757.7,424.3L758.1,423.9L758.4,423.3L758.8,426.5L759.2,427.1L759.5,413.6L759.9,424.8L760.2,428.0L760.6,420.3L761.0,421.0L761.3,414.3L761.7,420.3L762.0,423.2L762.4,417.2L762.8,422.6L763.1,419.8L763.5,417.8L763.8,423.6L764.2,416.7L764.6,419.3L764.9,419.5L765.3,420.9L765.6,417.1L766.0,418.8L766.4,417.6L766.7,417.0L767.1,428.5L767.4,422.3L767.8,421.6L768.2,409.7L768.5,416.5L768.9,416.4L769.2,416.1L769.6,419.0L770.0,416.4L770.3,419.2L770.7,417.0L771.0,416.2L771.4,412.6L771.8,417.6L772.1,414.7L772.5,415.7L772.8,414.3L773.2,416.5L773.6,416.5L773.9,417.0L774.3,412.9L774.6,419.8L775.0,418.5L775.4,425.3L775.7,426.1L776.1,415.8L776.4,417.6L776.8,414.1L777.2,411.3L777.5,416.6L777.9,415.8L778.2,419.0L778.6,414.0L779.0,418.3L779.3,414.6L779.7,414.8L780.0,420.5L780.4,412.2L780.8,411.5L781.1,417.3L781.5,421.7L781.8,419.7L782.2,418.8L782.6,423.3L782.9,422.0L783.3,422.4L783.6,428.6L784.0,420.8L784.4,414.1L784.7,418.1L785.1,424.8L785.4,420.4L785.8,423.6L786.2,423.5L786.5,424.2L786.9,419.0L787.2,424.7L787.6,430.1L788.0,425.3L788.3,425.1L788.7,425.3L789.0,424.4L789.4,420.3L789.8,426.2L790.1,427.5L790.5,425.3L790.8,426.5L791.2,426.6L791.6,429.6L791.9,428.2L792.3,425.8L792.6,424.4L793.0,427.5L793.4,429.6L793.7,431.2L794.1,430.2L794.4,429.1L794.8,431.3L795.2,428.3L795.5,431.6L795.9,432.8L796.2,433.7L796.6,429.7L797.0,433.1L797.3,433.7L797.7,431.0L798.0,431.6L798.4,431.0L798.8,432.5L799.1,435.4L799.5,429.9L799.8,434.0L800.2,436.2L800.6,439.3L800.9,435.5L801.3,432.0L801.6,434.1L802.0,433.6L802.4,429.1L802.7,439.2L803.1,436.4L803.4,435.1L803.8,439.1L804.2,433.9L804.5,443.3L804.9,435.4L805.2,436.3L805.6,432.6L806.0,440.4L806.3,435.0L806.7,432.1L807.0,436.7L807.4,440.1L807.8,436.6L808.1,431.2L808.5,435.7L808.8,435.2L809.2,432.3L809.6,435.1L809.9,438.5L810.3,440.6L810.6,436.6L811.0,437.3L811.4,437.9L811.7,442.6L812.1,431.2L812.4,445.2L812.8,441.8L813.2,438.5L813.5,443.2L813.9,436.7L814.2,443.6L814.6,440.8L815.0,436.6L815.3,439.7L815.7,445.0L816.0,438.6L816.4,441.6L816.8,443.4L817.1,443.5L817.5,444.8L817.8,439.1L818.2,445.4L818.6,445.3L818.9,442.7L819.3,444.1L819.6,443.0L820.0,442.8L820.4,443.1L820.7,445.7L821.1,440.4L821.4,441.0L821.8,431.3L822.2,441.8L822.5,445.2L822.9,443.2L823.2,446.5L823.6,441.4L824.0,441.6L824.3,443.2L824.7,443.1L825.0,440.1L825.4,443.1L825.8,449.2L826.1,445.8L826.5,442.4L826.8,442.2L827.2,445.6L827.6,448.5L827.9,453.8L828.3,446.6L828.6,449.4L829.0,446.9L829.4,449.5L829.7,445.2L830.1,443.5L830.4,451.4L830.8,447.1L831.2,445.9L831.5,449.2L831.9,446.2L832.2,450.0L832.6,450.9L833.0,449.4L833.3,446.4L833.7,445.8L834.0,447.7L834.4,448.1L834.8,447.9L835.1,447.4L835.5,445.1L835.8,445.4L836.2,445.3L836.6,453.1L836.9,446.3L837.3,453.1L837.6,446.1L838.0,445.9L838.4,439.4L838.7,452.3L839.1,451.1L839.4,448.6L839.8,454.9L840.2,451.3L840.5,451.2L840.9,453.5L841.2,450.0L841.6,446.2L842.0,452.1L842.3,452.8L842.7,452.6L843.0,456.4L843.4,452.2L843.8,453.8L844.1,453.7L844.5,455.8L844.8,455.4L845.2,456.7L845.6,454.5L845.9,459.6L846.3,457.5L846.6,460.6L847.0,460.2L847.4,462.0L847.7,458.3L848.1,461.6L848.4,461.5L848.8,461.3L849.2,458.8L849.5,462.8L849.9,458.0L850.2,463.4L850.6,463.1L851.0,460.9L851.3,457.4L851.7,463.1L852.0,460.5L852.4,461.2L852.8,460.0L853.1,464.0L853.5,459.0L853.8,463.3L854.2,461.6L854.6,454.0L854.9,453.2L855.3,458.3L855.6,463.9L856.0,462.0L856.4,459.5L856.7,471.8L857.1,464.4L857.4,464.5L857.8,464.5L858.2,463.2L858.5,460.4L858.9,465.4L859.2,464.1L859.6,465.7L860.0,468.1L860.3,463.5L860.7,464.5L861.0,466.6L861.4,472.5L861.8,466.8L862.1,468.1L862.5,467.2L862.8,470.1L863.2,463.9L863.6,467.2L863.9,475.7L864.3,468.0L864.6,468.9L865.0,465.4L865.4,466.0L865.7,468.7L866.1,463.8L866.4,466.7L866.8,466.1L867.2,472.5L867.5,468.6L867.9,470.0L868.2,463.2L868.6,465.4L869.0,459.5L869.3,462.0L869.7,464.6L870.0,454.0L870.4,466.5L870.8,465.2L871.1,464.0L871.5,465.6L871.8,459.0L872.2,465.0L872.6,461.8L872.9,461.1L873.3,458.5L873.6,466.6L874.0,460.1L874.4,471.3L874.7,467.9L875.1,465.6L875.4,464.6L875.8,470.1L876.2,467.7L876.5,467.3L876.9,477.0L877.2,471.3L877.6,472.3L878.0,473.0L878.3,478.2L878.7,475.6L879.0,475.8L879.4,473.0L879.8,480.7L880.1,482.3L880.5,474.6L880.8,474.0L881.2,480.2L881.6,480.0L881.9,479.3L882.3,477.7L882.6,477.5L883.0,475.2L883.4,482.3L883.7,479.1L884.1,478.3L884.4,478.6L884.8,479.3L885.2,475.8L885.5,479.2L885.9,477.1L886.2,475.8L886.6,473.5L887.0,477.0L887.3,475.6L887.7,477.4L888.0,473.4L888.4,482.6L888.8,480.3L889.1,468.6L889.5,476.2L889.8,478.1L890.2,472.7L890.6,483.6L890.9,474.2L891.3,473.8L891.6,479.1L892.0,471.9L892.4,476.2L892.7,476.0L893.1,474.2L893.4,476.3L893.8,477.9L894.2,473.1L894.5,472.2L894.9,475.2L895.2,473.6L895.6,467.8L896.0,477.0L896.3,477.2L896.7,473.8L897.0,472.8L897.4,474.2L897.8,468.4L898.1,471.2L898.5,473.9L898.8,474.8L899.2,474.3L899.6,476.4L899.9,478.7L900.3,478.3L900.6,473.3L901.0,476.7L901.4,464.7L901.7,476.6L902.1,476.8L902.4,472.9L902.8,466.8L903.2,475.4L903.5,475.7L903.9,476.6L904.2,471.9L904.6,470.3L905.0,471.6L905.3,472.2L905.7,473.3L906.0,474.7L906.4,472.4L906.8,476.8L907.1,469.1L907.5,473.4L907.8,472.1L908.2,478.0L908.6,472.7L908.9,464.1L909.3,471.3L909.6,467.5L910.0,475.7L910.4,472.8L910.7,472.3L911.1,469.5L911.4,468.4L911.8,470.9L912.2,471.9L912.5,472.6L912.9,467.9L913.2,467.6L913.6,470.2L914.0,469.8L914.3,465.7L914.7,466.0L915.0,468.9L915.4,470.6L915.8,470.0L916.1,468.4L916.5,467.3L916.8,465.9L917.2,469.1L917.6,463.0L917.9,462.8L918.3,468.3L918.6,472.5L919.0,464.7L919.4,469.8L919.7,466.8L920.1,465.5L920.4,464.0L920.8,460.7L921.2,458.4L921.5,462.1L921.9,462.8L922.2,457.9L922.6,459.8L923.0,463.0L923.3,455.6L923.7,457.3L924.0,454.6L924.4,455.1L924.8,450.0L925.1,456.4L925.5,453.8L925.8,450.7L926.2,451.1L926.6,450.1L926.9,453.7L927.3,448.9L927.6,452.8L928.0,449.5L928.4,454.7L928.7,456.3L929.1,457.4L929.4,461.2L929.8,460.0L930.2,466.2L930.5,467.8L930.9,468.9L931.2,466.0L931.6,469.4L932.0,471.3L932.3,468.4L932.7,470.4L933.0,473.6L933.4,472.5L933.8,475.6L934.1,473.1L934.5,473.8L934.8,471.3L935.2,472.6L935.6,474.0L935.9,478.7L936.3,471.4L936.6,475.0L937.0,481.2L937.4,476.0L937.7,478.0L938.1,476.4L938.4,473.5L938.8,479.2L939.2,481.7L939.5,473.8L939.9,473.0L940.2,474.2L940.6,477.7L941.0,472.0L941.3,478.1L941.7,474.8L942.0,479.0L942.4,479.4L942.8,477.1L943.1,475.4L943.5,474.3L943.8,476.4L944.2,477.5L944.6,478.0L944.9,479.8L945.3,480.9L945.6,472.1L946.0,480.2L946.4,483.3L946.7,482.1L947.1,475.3L947.4,473.7L947.8,478.9L948.2,476.2L948.5,479.1L948.9,477.6L949.2,475.8L949.6,478.1L950.0,482.3L950.3,479.8L950.7,481.7L951.0,476.9L951.4,476.9L951.8,479.0L952.1,474.5L952.5,475.9L952.8,475.6L953.2,478.0L953.6,480.6L953.9,476.9L954.3,482.2L954.6,486.3L955.0,481.2L955.4,479.8L955.7,483.8L956.1,481.2L956.4,469.1L956.8,481.4L957.2,485.1L957.5,486.0L957.9,484.3L958.2,481.6L958.6,485.1L959.0,486.0L959.3,488.1L959.7,485.5L960.0,478.9L960.4,487.2L960.8,483.5L961.1,482.8L961.5,489.6L961.8,489.9L962.2,486.1L962.6,487.5L962.9,486.5L963.3,493.2L963.6,486.9L964.0,489.2L964.4,488.0L964.7,482.8L965.1,485.7L965.4,492.0L965.8,484.5L966.2,484.3L966.5,488.2L966.9,493.9L967.2,494.5L967.6,484.7L968.0,487.9L968.3,489.7L968.7,487.4L969.0,489.9L969.4,489.0L969.8,489.4L970.1,494.8L970.5,495.9L970.8,490.1L971.2,493.9L971.6,490.2L971.9,495.9L972.3,491.1L972.6,495.9L973.0,496.7L973.4,493.1L973.7,489.6L974.1,494.3L974.4,491.7L974.8,488.2L975.2,497.1L975.5,495.5L975.9,499.1L976.2,506.2L976.6,495.3L977.0,492.6L977.3,496.6L977.7,493.3L978.0,494.5L978.4,488.2L978.8,489.5L979.1,497.5L979.5,495.1L979.8,494.5L980.2,498.7L980.6,492.7L980.9,493.2L981.3,496.4L981.6,497.6L982.0,496.7L982.4,491.2L982.7,498.1L983.1,496.7L983.4,494.4L983.8,497.4L984.2,497.7L984.5,496.4L984.9,501.5L985.2,497.8L985.6,501.0L986.0,495.2L986.3,498.4L986.7,500.3L987.0,495.2L987.4,493.1L987.8,497.9L988.1,502.1L988.5,502.5L988.8,498.3L989.2,505.7L989.6,506.2L989.9,508.8L990.3,506.1L990.6,506.9L991.0,509.5L991.4,511.6L991.7,508.3L992.1,511.6L992.4,511.4L992.8,513.4L993.2,509.1L993.5,513.9L993.9,512.7L994.2,514.3L994.6,515.2L995.0,514.1L995.3,515.6L995.7,510.5L996.0,512.2L996.4,517.1L996.8,514.7L997.1,518.2L997.5,517.4L997.8,516.1L998.2,513.6L998.6,514.4L998.9,519.1L999.3,519.8L999.6,517.8L1000.0,515.0L1000.4,516.3L1000.7,519.2L1001.1,518.1L1001.4,526.6L1001.8,515.8L1002.2,521.3L1002.5,516.6L1002.9,515.4L1003.2,515.5L1003.6,520.2L1004.0,518.4L1004.3,517.6L1004.7,517.8L1005.0,516.8L1005.4,518.9L1005.8,517.1L1006.1,516.4L1006.5,519.3L1006.8,523.4L1007.2,516.5L1007.6,518.9L1007.9,520.1L1008.3,519.4L1008.6,518.0L1009.0,522.5L1009.4,519.3L1009.7,521.7L1010.1,518.0L1010.4,517.9L1010.8,516.9L1011.2,524.4L1011.5,520.4L1011.9,522.4L1012.2,520.4L1012.6,519.5L1013.0,520.5L1013.3,518.0L1013.7,521.2L1014.0,519.5L1014.4,524.3L1014.8,521.5L1015.1,520.4L1015.5,521.2L1015.8,519.8L1016.2,520.2L1016.6,523.5L1016.9,518.2L1017.3,520.3L1017.6,521.9L1018.0,520.0L1018.4,524.9L1018.7,519.0L1019.1,521.3L1019.4,520.7L1019.8,511.5L1020.2,521.4L1020.5,516.7L1020.9,517.0L1021.2,521.1L1021.6,522.4L1022.0,519.5L1022.3,522.1L1022.7,523.3L1023.0,518.5L1023.4,519.5L1023.8,522.0L1024.1,515.7L1024.5,518.9L1024.8,520.3L1025.2,515.9L1025.6,516.1L1025.9,514.6L1026.3,514.8L1026.6,516.4L1027.0,518.4L1027.4,522.4L1027.7,515.8L1028.1,518.8L1028.4,521.0L1028.8,517.0L1029.2,518.1L1029.5,513.9L1029.9,515.3L1030.2,517.4L1030.6,518.8L1031.0,511.4L1031.3,513.5L1031.7,521.8L1032.0,518.5L1032.4,518.4L1032.8,512.6L1033.1,515.7L1033.5,516.6L1033.8,512.3L1034.2,515.9L1034.6,514.2L1034.9,512.2L1035.3,514.0L1035.6,522.2L1036.0,522.4L1036.4,512.8L1036.7,515.0L1037.1,511.3L1037.4,514.9L1037.8,519.1L1038.2,518.9L1038.5,518.1L1038.9,515.7L1039.2,515.7L1039.6,515.8L1040.0,515.2L1040.3,520.1L1040.7,519.3L1041.0,519.6L1041.4,519.4L1041.8,518.3L1042.1,522.1L1042.5,520.7L1042.8,521.8L1043.2,518.7L1043.6,521.7L1043.9,514.4L1044.3,521.0L1044.6,525.7L1045.0,519.9L1045.4,521.0L1045.7,521.0L1046.1,526.4L1046.4,526.2L1046.8,521.7L1047.2,522.4L1047.5,520.5L1047.9,518.1L1048.2,526.0L1048.6,524.4L1049.0,524.4L1049.3,512.8L1049.7,524.5L1050.0,524.0L1050.4,520.4L1050.8,525.1L1051.1,531.5L1051.5,525.4L1051.8,525.4L1052.2,514.9L1052.6,522.7L1052.9,526.8L1053.3,520.4L1053.6,527.2L1054.0,511.6L1054.4,525.9L1054.7,525.2L1055.1,521.6L1055.4,524.6L1055.8,529.5L1056.2,527.2" stroke="#000" stroke-width="2.8" fill="none" stroke-linejoin="round"/><g fill="#00ff00"><circle cx="119.8" cy="300.0" r="2.3"/><circle cx="120.9" cy="297.8" r="2.3"/><circle cx="122.0" cy="310.6" r="2.3"/><circle cx="123.0" cy="302.7" r="2.3"/><circle cx="124.1" cy="303.8" r="2.3"/><circle cx="125.2" cy="304.1" r="2.3"/><circle cx="126.3" cy="299.8" r="2.3"/><circle cx="127.4" cy="304.9" r="2.3"/><circle cx="128.4" cy="306.5" r="2.3"/><circle cx="129.5" cy="309.9" r="2.3"/><circle cx="130.6" cy="295.4" r="2.3"/><circle cx="131.7" cy="305.1" r="2.3"/><circle cx="132.8" cy="304.6" r="2.3"/><circle cx="133.8" cy="301.1" r="2.3"/><circle cx="134.9" cy="308.1" r="2.3"/><circle cx="136.0" cy="300.8" r="2.3"/><circle cx="137.1" cy="305.6" r="2.3"/><circle cx="138.2" cy="299.1" r="2.3"/><circle cx="139.2" cy="299.6" r="2.3"/><circle cx="140.3" cy="305.9" r="2.3"/><circle cx="141.4" cy="308.9" r="2.3"/><circle cx="142.5" cy="314.6" r="2.3"/><circle cx="143.6" cy="315.1" r="2.3"/><circle cx="144.6" cy="316.9" r="2.3"/><circle cx="145.7" cy="308.6" r="2.3"/><circle cx="146.8" cy="309.9" r="2.3"/><circle cx="147.9" cy="310.6" r="2.3"/><circle cx="149.0" cy="314.6" r="2.3"/><circle cx="150.0" cy="317.0" r="2.3"/><circle cx="151.1" cy="308.5" r="2.3"/><circle cx="152.2" cy="317.3" r="2.3"/><circle cx="153.3" cy="309.3" r="2.3"/><circle cx="1000.0" cy="517.7" r="2.3"/><circle cx="1001.1" cy="521.2" r="2.3"/><circle cx="1002.2" cy="518.7" r="2.3"/><circle cx="1003.2" cy="517.8" r="2.3"/><circle cx="1004.3" cy="518.2" r="2.3"/><circle cx="1005.4" cy="521.1" r="2.3"/><circle cx="1006.5" cy="520.0" r="2.3"/><circle cx="1007.6" cy="521.7" r="2.3"/><circle cx="1008.6" cy="520.5" r="2.3"/><circle cx="1009.7" cy="524.0" r="2.3"/><circle cx="1010.8" cy="513.5" r="2.3"/><circle cx="1011.9" cy="524.5" r="2.3"/><circle cx="1013.0" cy="520.7" r="2.3"/><circle cx="1014.0" cy="516.8" r="2.3"/><circle cx="1015.1" cy="522.1" r="2.3"/><circle cx="1016.2" cy="516.8" r="2.3"/><circle cx="1017.3" cy="522.6" r="2.3"/><circle cx="1018.4" cy="529.1" r="2.3"/><circle cx="1019.4" cy="519.5" r="2.3"/><circle cx="1020.5" cy="519.0" r="2.3"/><circle cx="1021.6" cy="523.6" r="2.3"/><circle cx="1022.7" cy="524.9" r="2.3"/><circle cx="1023.8" cy="518.7" r="2.3"/><circle cx="1024.8" cy="521.9" r="2.3"/><circle cx="1025.9" cy="514.9" r="2.3"/><circle cx="1027.0" cy="520.3" r="2.3"/></g><path d="M126.3,293.0L127.8,292.4L129.3,291.9L130.8,291.4L132.3,291.2L133.8,291.3L135.3,291.6L136.8,292.3L138.3,293.2L139.8,294.3L141.3,295.5L142.8,296.7L144.3,297.7L145.8,298.6L147.3,299.3L148.8,299.6L150.3,299.5L151.8,299.0L153.3,298.1L154.8,297.0L156.3,295.6L157.8,294.1L159.3,292.5L160.8,290.8L162.3,289.1L163.8,287.5L165.3,286.1L166.8,284.8L168.3,283.8L169.8,282.9L171.3,282.1L172.8,281.4L174.3,280.7L175.8,280.0L177.3,279.2L178.8,278.4L180.3,277.4L181.8,276.2L183.3,274.8L184.8,273.2L186.3,271.4L187.8,269.6L189.3,267.7L190.8,265.8L192.3,264.1L193.8,262.4L195.3,260.9L196.8,259.5L198.3,258.4L199.8,257.4L201.3,256.6L202.8,256.2L204.3,255.9L205.8,256.0L207.3,256.3L208.8,256.8L210.3,257.5L211.8,258.4L213.3,259.4L214.8,260.6L216.3,261.9L217.8,263.3L219.3,264.8L220.8,266.4L222.3,267.9L223.8,269.5L225.3,271.1L226.8,272.7L228.3,274.1L229.8,275.5L231.3,276.7L232.8,277.8L234.3,278.7L235.8,279.4L237.3,279.8L238.8,280.1L240.3,280.3L241.8,280.5L243.3,280.6L244.8,280.7L246.3,281.0L247.8,281.4L249.3,282.0L250.8,282.8L252.3,283.7L253.8,284.9L255.3,286.2L256.8,287.7L258.3,289.3L259.8,291.1L261.3,292.9L262.8,294.8L264.3,296.7L265.8,298.7L267.3,300.5L268.8,302.1L270.3,303.4L271.8,304.2L273.3,304.6L274.8,304.4L276.3,303.8L277.8,302.9L279.3,301.8L280.8,300.7L282.3,299.6L283.8,298.5L285.3,297.4L286.8,296.3L288.3,295.0L289.8,293.5L291.3,291.8L292.8,289.8L294.3,287.6L295.8,285.3L297.3,282.9L298.8,280.6L300.3,278.5L301.8,276.5L303.3,274.9L304.8,273.6L306.3,272.6L307.8,271.8L309.3,271.3L310.8,271.0L312.3,270.8L313.8,270.7L315.3,270.7L316.8,270.8L318.3,270.9L319.8,271.0L321.3,271.2L322.8,271.4L324.3,271.8L325.8,272.4L327.3,273.2L328.8,274.3L330.3,275.6L331.8,277.2L333.3,279.0L334.8,280.8L336.3,282.6L337.8,284.1L339.3,285.2L340.8,285.9L342.3,286.3L343.8,286.5L345.3,286.6L346.8,286.8L348.3,287.2L349.8,287.8L351.3,288.7L352.8,289.9L354.3,291.3L355.8,292.8L357.3,294.5L358.8,296.3L360.3,298.2L361.8,300.0L363.3,301.9L364.8,303.8L366.3,305.6L367.8,307.4L369.3,309.0L370.8,310.5L372.3,312.0L373.8,313.2L375.3,314.4L376.8,315.3L378.3,316.1L379.8,316.7L381.3,317.0L382.8,317.2L384.3,317.0L385.8,316.6L387.3,316.0L388.8,315.2L390.3,314.4L391.8,313.6L393.3,312.9L394.8,312.3L396.3,312.0L397.8,312.0L399.3,312.4L400.8,313.1L402.3,314.4L403.8,316.3L405.3,318.8L406.8,322.0L408.3,326.1L409.8,330.8L411.3,335.9L412.8,341.1L414.3,346.1L415.8,350.8L417.3,354.8L418.8,358.2L420.3,361.0L421.8,363.2L423.3,364.8L424.8,365.9L426.3,366.5L427.8,366.6L429.3,366.3L430.8,365.6L432.3,364.7L433.8,363.5L435.3,362.2L436.8,360.8L438.3,359.4L439.8,358.1L441.3,356.9L442.8,355.8L444.3,354.7L445.8,353.6L447.3,352.5L448.8,351.3L450.3,350.0L451.8,348.5L453.3,346.9L454.8,345.1L456.3,343.1L457.8,340.8L459.3,338.4L460.8,335.9L462.3,333.5L463.8,331.3L465.3,329.2L466.8,327.4L468.3,326.0L469.8,324.9L471.3,324.1L472.8,323.7L474.3,323.5L475.8,323.5L477.3,323.7L478.8,324.2L480.3,324.8L481.8,325.8L483.3,327.1L484.8,329.0L486.3,331.7L487.8,335.0L489.3,339.1L490.8,343.6L492.3,348.5L493.8,353.6L495.3,358.8L496.8,363.9L498.3,368.8L499.8,373.6L501.3,378.2L502.8,382.5L504.3,386.6L505.8,390.4L507.3,393.8L508.8,397.0L510.3,399.8L511.8,402.3L513.3,404.5L514.8,406.3L516.3,407.9L517.8,409.3L519.3,410.3L520.8,411.1L522.3,411.6L523.8,411.8L525.3,411.5L526.8,410.4L528.3,408.2L529.8,404.7L531.3,399.6L532.8,392.8L534.3,384.8L535.8,376.3L537.3,367.9L538.8,360.3L540.3,353.9L541.8,348.7L543.3,344.6L544.8,341.4L546.3,339.1L547.8,337.6L549.3,336.8L550.8,336.6L552.3,336.9L553.8,337.7L555.3,338.8L556.8,340.3L558.3,341.9L559.8,343.8L561.3,345.7L562.8,347.7L564.3,349.8L565.8,352.0L567.3,354.3L568.8,356.8L570.3,359.4L571.8,362.2L573.3,365.1L574.8,368.2L576.3,371.5L577.8,374.9L579.3,378.3L580.8,381.5L582.3,384.5L583.8,387.2L585.3,389.5L586.8,391.2L588.3,392.4L589.8,392.8L591.3,392.4L592.8,391.3L594.3,389.5L595.8,387.3L597.3,384.8L598.8,382.3L600.3,379.9L601.8,377.8L603.3,376.2L604.8,374.9L606.3,373.9L607.8,373.3L609.3,373.0L610.8,372.9L612.3,373.0L613.8,373.3L615.3,373.8L616.8,374.5L618.3,375.3L619.8,376.2L621.3,377.3L622.8,378.5L624.3,379.7L625.8,381.1L627.3,382.5L628.8,384.0L630.3,385.5L631.8,387.0L633.3,388.5L634.8,390.1L636.3,391.8L637.8,393.7L639.3,395.7L640.8,398.0L642.3,400.6L643.8,403.6L645.3,406.8L646.8,410.4L648.3,414.1L649.8,417.8L651.3,421.6L652.8,425.3L654.3,428.7L655.8,432.0L657.3,434.9L658.8,437.3L660.3,439.3L661.8,440.8L663.3,441.9L664.8,442.8L666.3,443.5L667.8,444.0L669.3,444.5L670.8,444.9L672.3,445.1L673.8,445.3L675.3,445.4L676.8,445.4L678.3,445.4L679.8,445.3L681.3,445.1L682.8,445.0L684.3,444.8L685.8,444.6L687.3,444.4L688.8,444.2L690.3,444.1L691.8,444.1L693.3,444.1L694.8,444.3L696.3,444.6L697.8,445.1L699.3,445.8L700.8,446.6L702.3,447.6L703.8,448.6L705.3,449.7L706.8,450.8L707.8,451.6" stroke="#ff8000" stroke-width="4.2" fill="none"/><path d="M867.6,465.0L869.1,465.9L870.6,466.8L872.1,467.7L873.6,468.5L875.1,469.4L876.6,470.2L878.1,470.9L879.6,471.7L881.1,472.3L882.6,473.0L884.1,473.5L885.6,474.0L887.1,474.4L888.6,474.7L890.1,474.9L891.6,475.1L893.1,475.2L894.6,475.2L896.1,475.2L897.6,475.2L899.1,475.1L900.6,475.1L902.1,475.0L903.6,474.9L905.1,474.9L906.6,474.8L908.1,474.8L909.6,474.9L911.1,475.0L912.6,475.1L914.1,475.4L915.6,475.7L917.1,476.0L918.6,476.4L920.1,476.8L921.6,477.3L923.1,477.8L924.6,478.3L926.1,478.8L927.6,479.3L929.1,479.8L930.6,480.3L932.1,480.7L933.6,481.2L935.1,481.6L936.6,481.9L938.1,482.2L939.6,482.5L941.1,482.7L942.6,482.9L944.1,483.0L945.6,483.2L947.1,483.3L948.6,483.4L950.1,483.5L951.6,483.5L953.1,483.6L954.6,483.7L956.1,483.7L957.6,483.8L959.1,483.9L960.6,483.9L962.1,484.0L963.6,484.0L965.1,484.1L966.6,484.1L968.1,484.1L969.6,484.2L969.7,484.2" stroke="#ff8000" stroke-width="4.2" fill="none"/><rect x="177.4" y="238.1" width="39.2" height="9.0" fill="#000"/><rect x="276.2" y="238.1" width="78.7" height="9.0" fill="#000"/><rect x="410.3" y="238.1" width="75.6" height="9.0" fill="#000"/><rect x="577.6" y="238.1" width="131.2" height="9.0" fill="#000"/><rect x="882.5" y="238.1" width="23.1" height="9.0" fill="#000"/><rect x="945.2" y="238.1" width="29.3" height="9.0" fill="#000"/></g>
<rect x="105.00" y="0.50" width="951.80" height="557.00" fill="none" stroke="#000" stroke-width="2.4"/><path d="M124.69,557.50V546.00M124.69,0.50V12.00M255.98,557.50V546.00M255.98,0.50V12.00M387.26,557.50V546.00M387.26,0.50V12.00M518.54,557.50V546.00M518.54,0.50V12.00M649.82,557.50V546.00M649.82,0.50V12.00M781.11,557.50V546.00M781.11,0.50V12.00M912.39,557.50V546.00M912.39,0.50V12.00M1043.67,557.50V546.00M1043.67,0.50V12.00M124.69,557.50V551.70M124.69,0.50V6.30M157.51,557.50V551.70M157.51,0.50V6.30M190.33,557.50V551.70M190.33,0.50V6.30M223.15,557.50V551.70M223.15,0.50V6.30M255.98,557.50V551.70M255.98,0.50V6.30M288.80,557.50V551.70M288.80,0.50V6.30M321.62,557.50V551.70M321.62,0.50V6.30M354.44,557.50V551.70M354.44,0.50V6.30M387.26,557.50V551.70M387.26,0.50V6.30M420.08,557.50V551.70M420.08,0.50V6.30M452.90,557.50V551.70M452.90,0.50V6.30M485.72,557.50V551.70M485.72,0.50V6.30M518.54,557.50V551.70M518.54,0.50V6.30M551.36,557.50V551.70M551.36,0.50V6.30M584.18,557.50V551.70M584.18,0.50V6.30M617.00,557.50V551.70M617.00,0.50V6.30M649.82,557.50V551.70M649.82,0.50V6.30M682.64,557.50V551.70M682.64,0.50V6.30M715.46,557.50V551.70M715.46,0.50V6.30M748.29,557.50V551.70M748.29,0.50V6.30M781.11,557.50V551.70M781.11,0.50V6.30M813.93,557.50V551.70M813.93,0.50V6.30M846.75,557.50V551.70M846.75,0.50V6.30M879.57,557.50V551.70M879.57,0.50V6.30M912.39,557.50V551.70M912.39,0.50V6.30M945.21,557.50V551.70M945.21,0.50V6.30M978.03,557.50V551.70M978.03,0.50V6.30M1010.85,557.50V551.70M1010.85,0.50V6.30M1043.67,557.50V551.70M1043.67,0.50V6.30M105.00,502.71H120.00M1056.80,502.71H1041.80M105.00,411.40H120.00M1056.80,411.40H1041.80M105.00,320.09H120.00M1056.80,320.09H1041.80M105.00,228.78H120.00M1056.80,228.78H1041.80M105.00,137.47H120.00M1056.80,137.47H1041.80M105.00,46.16H120.00M1056.80,46.16H1041.80M105.00,548.37H112.30M1056.80,548.37H1049.50M105.00,525.54H112.30M1056.80,525.54H1049.50M105.00,502.71H112.30M1056.80,502.71H1049.50M105.00,479.89H112.30M1056.80,479.89H1049.50M105.00,457.06H112.30M1056.80,457.06H1049.50M105.00,434.23H112.30M1056.80,434.23H1049.50M105.00,411.40H112.30M1056.80,411.40H1049.50M105.00,388.57H112.30M1056.80,388.57H1049.50M105.00,365.75H112.30M1056.80,365.75H1049.50M105.00,342.92H112.30M1056.80,342.92H1049.50M105.00,320.09H112.30M1056.80,320.09H1049.50M105.00,297.26H112.30M1056.80,297.26H1049.50M105.00,274.43H112.30M1056.80,274.43H1049.50M105.00,251.61H112.30M1056.80,251.61H1049.50M105.00,228.78H112.30M1056.80,228.78H1049.50M105.00,205.95H112.30M1056.80,205.95H1049.50M105.00,183.12H112.30M1056.80,183.12H1049.50M105.00,160.30H112.30M1056.80,160.30H1049.50M105.00,137.47H112.30M1056.80,137.47H1049.50M105.00,114.64H112.30M1056.80,114.64H1049.50M105.00,91.81H112.30M1056.80,91.81H1049.50M105.00,68.98H112.30M1056.80,68.98H1049.50M105.00,46.16H112.30M1056.80,46.16H1049.50M105.00,23.33H112.30M1056.80,23.33H1049.50" stroke="#000" stroke-width="2.4" fill="none"/>
<g clip-path="url(#cB)"><rect x="1587.9" y="93.9" width="105.6" height="247.7" fill="#c8c8c8"/><path d="M1210.3,310.61H1821.0" stroke="#000" stroke-width="3.4"/><path d="M1210.8,167.6L1217.3,142.9L1220.6,155.3L1224.8,136.3L1228.9,163.5L1232.2,162.7L1234.3,141.3L1237.1,153.6L1240.4,149.5L1242.0,157.8L1243.7,147.0L1245.8,177.5L1248.1,153.6L1252.8,153.6L1255.2,170.1L1259.3,149.5L1265.9,156.1L1269.2,190.7L1271.7,141.3L1274.2,170.1L1277.5,170.1L1281.1,151.2L1283.7,174.2L1285.7,166.8L1290.3,159.4L1292.3,174.2L1298.0,166.8L1300.2,180.8L1304.6,162.7L1307.1,170.9L1309.1,161.9L1312.9,166.8L1316.1,166.8L1318.6,182.5L1321.6,186.6L1326.0,153.6L1328.2,184.1L1331.0,169.3L1333.1,190.7L1335.1,176.7L1336.7,180.8L1340.0,212.1L1342.5,170.9L1346.9,222.8L1353.2,182.5L1355.7,183.3L1358.1,194.0L1360.6,222.0L1363.4,203.0L1366.0,228.6L1368.8,207.2L1370.5,220.3L1373.0,212.9L1375.4,217.9L1384.5,208.8L1387.0,235.1L1394.4,201.4L1396.8,217.0L1400.1,217.9L1401.3,241.7L1404.2,208.8L1406.2,254.9L1409.2,240.1L1413.3,204.7L1416.6,225.3L1419.1,227.7L1420.7,222.0L1423.2,225.3L1425.6,207.2L1428.1,198.9L1432.2,198.9L1434.7,212.9L1438.8,195.6L1442.1,200.6L1443.8,186.6L1446.2,225.3L1448.7,201.4L1451.2,221.1L1453.6,195.6L1456.9,211.3L1460.6,193.2L1462.7,198.9L1465.2,248.3L1468.5,218.7L1471.8,223.6L1474.2,238.4L1478.3,233.5L1480.8,236.8L1484.1,226.1L1486.6,241.7L1489.9,248.3L1493.2,259.8L1497.3,226.1L1504.5,217.8L1507.2,255.6L1509.9,252.0L1513.5,225.0L1517.1,256.5L1521.6,228.6L1526.1,245.7L1533.3,213.3L1536.0,216.9L1540.5,253.8L1545.0,226.8L1548.6,243.0L1554.0,238.5L1556.7,222.3L1559.4,238.5L1563.9,211.5L1566.6,218.7L1569.3,218.7L1572.0,221.4L1573.8,252.0L1576.5,248.4L1581.0,212.4L1583.7,234.0L1587.3,235.8L1590.0,199.8L1591.8,187.1L1597.2,197.1L1599.0,187.1L1602.6,210.6L1606.2,208.8L1609.0,190.8L1613.5,196.2L1615.3,186.2L1618.0,189.9L1619.8,178.1L1622.5,192.6L1625.2,169.1L1627.9,162.8L1629.7,145.7L1634.2,157.4L1636.9,129.5L1642.3,150.2L1646.8,129.5L1650.4,191.7L1652.2,189.9L1655.8,142.1L1660.3,208.8L1663.0,204.3L1665.3,227.7L1667.5,206.1L1672.9,209.7L1677.4,231.3L1680.1,211.5L1683.7,245.7L1685.5,224.1L1688.2,212.4L1690.9,228.6L1693.6,200.7L1697.2,233.1L1699.9,238.5L1702.6,252.0L1705.3,236.7L1709.8,225.0L1714.3,250.2L1717.9,227.7L1724.2,220.5L1724.7,196.2L1727.8,233.1L1731.4,238.5L1735.0,211.5L1737.7,236.7L1743.1,213.3L1745.8,215.1L1749.4,243.0L1753.0,243.9L1757.5,250.2L1760.2,227.7L1763.8,264.6L1768.3,225.9L1773.7,229.5L1775.5,234.0L1779.1,247.5L1783.6,260.1L1787.2,238.5L1791.7,233.1L1794.4,271.8L1797.1,241.2L1799.8,252.0L1804.3,233.1L1807.9,249.3L1810.6,236.7L1811.5,263.7L1815.1,238.5L1818.7,258.3L1822.0,269.1" stroke="#000" stroke-width="2.9" fill="none" stroke-linejoin="miter" stroke-miterlimit="3"/><path d="M1424.8,215.4L1426.3,215.8L1427.8,216.3L1429.3,216.8L1430.8,217.2L1432.3,217.7L1433.8,218.1L1435.3,218.6L1436.8,219.1L1438.3,219.6L1439.8,220.0L1441.3,220.5L1442.8,221.0L1444.3,221.5L1445.8,222.0L1447.3,222.5L1448.8,222.9L1450.3,223.4L1451.8,223.9L1453.3,224.4L1454.8,224.8L1456.3,225.3L1457.8,225.7L1459.3,226.2L1460.8,226.6L1462.3,227.1L1463.8,227.5L1465.3,228.0L1466.8,228.4L1468.3,228.8L1469.8,229.3L1471.3,229.7L1472.8,230.2L1474.3,230.6L1475.8,231.0L1477.3,231.4L1478.8,231.8L1480.3,232.3L1481.8,232.7L1483.3,233.1L1484.8,233.5L1486.3,233.9L1487.8,234.2L1489.3,234.6L1490.8,235.0L1492.3,235.3L1493.8,235.6L1495.3,235.9L1496.8,236.2L1498.3,236.4L1499.8,236.6L1501.3,236.8L1502.8,237.0L1504.3,237.1L1505.8,237.2L1507.3,237.2L1508.8,237.3L1510.3,237.2L1511.8,237.2L1513.3,237.1L1514.8,237.0L1516.3,236.9L1517.8,236.7L1519.3,236.5L1520.8,236.2L1522.3,236.0L1523.8,235.7L1525.3,235.4L1526.8,235.1L1528.3,234.7L1529.8,234.4L1531.3,234.1L1532.8,233.7L1534.3,233.4L1535.8,233.1L1537.3,232.8L1538.8,232.5L1540.3,232.3L1541.8,232.0L1543.3,231.8L1544.8,231.5L1546.3,231.2L1547.8,230.9L1549.3,230.6L1550.8,230.3L1552.3,229.9L1553.8,229.5L1555.3,229.1L1556.8,228.6L1558.3,228.2L1559.8,227.7L1561.3,227.1L1562.8,226.6L1564.3,226.1L1565.8,225.7L1567.3,225.2L1568.8,224.8L1570.3,224.4L1571.8,224.1L1573.3,223.8L1574.8,223.6L1576.3,223.5L1577.8,223.3L1579.3,223.3L1580.8,223.2L1582.3,223.2L1583.8,223.2L1585.3,223.2L1586.8,223.2L1588.3,223.2L1589.8,223.2L1591.3,223.2L1592.8,223.1L1594.3,223.1L1595.8,223.1L1597.3,223.1L1598.8,223.0L1600.3,223.0L1601.8,223.0L1603.3,223.0L1604.8,223.0L1606.3,223.1L1607.8,223.2L1609.3,223.2L1610.8,223.4L1612.3,223.5L1613.8,223.7L1615.3,223.9L1616.8,224.1L1618.3,224.3L1619.8,224.6L1621.3,224.9L1622.8,225.2L1624.3,225.5L1625.8,225.8L1627.3,226.2L1628.8,226.5L1630.3,226.9L1631.8,227.3L1633.3,227.6L1634.8,228.0L1636.3,228.4L1637.8,228.8L1639.3,229.2L1640.8,229.6L1642.3,229.9L1643.8,230.3L1645.3,230.7L1646.8,231.0L1648.3,231.3L1649.8,231.7L1651.3,232.0L1652.8,232.3L1654.3,232.6L1655.8,232.9L1657.3,233.2L1658.8,233.4L1660.3,233.7L1661.8,233.9L1663.3,234.2L1664.8,234.4L1666.3,234.6L1667.8,234.8L1669.3,235.0L1670.8,235.2L1672.3,235.4L1673.8,235.5L1675.3,235.6L1676.8,235.7L1678.3,235.7L1679.8,235.8L1681.3,235.8L1682.8,235.7L1684.3,235.7L1685.8,235.6L1687.3,235.5L1688.8,235.3L1690.3,235.2L1691.8,235.0L1693.3,234.8L1694.8,234.5L1696.3,234.3L1697.8,234.0L1699.3,233.7L1700.8,233.5L1702.3,233.2L1703.8,232.8L1705.3,232.5L1706.8,232.2L1708.3,231.9L1709.8,231.6L1711.3,231.3L1712.8,231.0L1714.3,230.7L1715.8,230.4L1717.3,230.2L1718.8,229.9L1720.3,229.7L1721.8,229.4L1723.3,229.2L1724.8,229.0L1726.3,228.8L1727.8,228.6L1729.3,228.4L1730.8,228.2L1732.3,227.9L1733.8,227.7L1735.3,227.5L1736.8,227.2L1738.3,227.0L1739.8,226.7L1741.3,226.5L1742.8,226.3L1744.3,226.0L1745.8,225.8L1747.3,225.6L1748.8,225.4L1750.3,225.2L1751.8,225.0L1753.3,224.8L1754.8,224.7L1756.3,224.6L1757.8,224.5L1759.3,224.4L1760.8,224.3L1762.3,224.3L1763.8,224.2L1765.3,224.2L1766.8,224.1L1768.3,224.1L1769.8,224.1L1771.3,224.0L1772.8,224.0L1774.3,224.0L1775.8,223.9L1777.3,223.9L1778.8,223.9L1780.3,223.9L1781.8,223.8L1783.3,223.8L1784.8,223.8L1786.3,223.7L1787.8,223.7L1789.3,223.7L1790.8,223.6L1792.3,223.6L1793.8,223.6L1795.3,223.5L1796.2,223.5" stroke="#ff8000" stroke-width="4" fill="none"/><rect x="1481.6" y="274.8" width="82.3" height="9.2" fill="#000"/><rect x="1698.5" y="274.8" width="113.0" height="9.2" fill="#000"/></g>
<rect x="1210.30" y="0.70" width="610.70" height="340.90" fill="none" stroke="#000" stroke-width="2.4"/><path d="M1233.79,341.60V335.40M1233.79,0.70V6.90M1351.23,341.60V335.40M1351.23,0.70V6.90M1468.67,341.60V335.40M1468.67,0.70V6.90M1586.12,341.60V335.40M1586.12,0.70V6.90M1703.56,341.60V335.40M1703.56,0.70V6.90M1233.79,341.60V338.60M1233.79,0.70V3.70M1257.28,341.60V338.60M1257.28,0.70V3.70M1280.77,341.60V338.60M1280.77,0.70V3.70M1304.25,341.60V338.60M1304.25,0.70V3.70M1327.74,341.60V338.60M1327.74,0.70V3.70M1351.23,341.60V338.60M1351.23,0.70V3.70M1374.72,341.60V338.60M1374.72,0.70V3.70M1398.21,341.60V338.60M1398.21,0.70V3.70M1421.70,341.60V338.60M1421.70,0.70V3.70M1445.18,341.60V338.60M1445.18,0.70V3.70M1468.67,341.60V338.60M1468.67,0.70V3.70M1492.16,341.60V338.60M1492.16,0.70V3.70M1515.65,341.60V338.60M1515.65,0.70V3.70M1539.14,341.60V338.60M1539.14,0.70V3.70M1562.63,341.60V338.60M1562.63,0.70V3.70M1586.12,341.60V338.60M1586.12,0.70V3.70M1609.60,341.60V338.60M1609.60,0.70V3.70M1633.09,341.60V338.60M1633.09,0.70V3.70M1656.58,341.60V338.60M1656.58,0.70V3.70M1680.07,341.60V338.60M1680.07,0.70V3.70M1703.56,341.60V338.60M1703.56,0.70V3.70M1727.05,341.60V338.60M1727.05,0.70V3.70M1750.53,341.60V338.60M1750.53,0.70V3.70M1774.02,341.60V338.60M1774.02,0.70V3.70M1797.51,341.60V338.60M1797.51,0.70V3.70M1210.30,310.61H1219.60M1821.00,310.61H1811.70M1210.30,233.13H1219.60M1821.00,233.13H1811.70M1210.30,155.65H1219.60M1821.00,155.65H1811.70M1210.30,78.18H1219.60M1821.00,78.18H1811.70M1210.30,326.10H1215.30M1821.00,326.10H1816.00M1210.30,310.61H1215.30M1821.00,310.61H1816.00M1210.30,295.11H1215.30M1821.00,295.11H1816.00M1210.30,279.62H1215.30M1821.00,279.62H1816.00M1210.30,264.12H1215.30M1821.00,264.12H1816.00M1210.30,248.63H1215.30M1821.00,248.63H1816.00M1210.30,233.13H1215.30M1821.00,233.13H1816.00M1210.30,217.64H1215.30M1821.00,217.64H1816.00M1210.30,202.14H1215.30M1821.00,202.14H1816.00M1210.30,186.65H1215.30M1821.00,186.65H1816.00M1210.30,171.15H1215.30M1821.00,171.15H1816.00M1210.30,155.65H1215.30M1821.00,155.65H1816.00M1210.30,140.16H1215.30M1821.00,140.16H1816.00M1210.30,124.66H1215.30M1821.00,124.66H1816.00M1210.30,109.17H1215.30M1821.00,109.17H1816.00M1210.30,93.67H1215.30M1821.00,93.67H1816.00M1210.30,78.18H1215.30M1821.00,78.18H1816.00M1210.30,62.68H1215.30M1821.00,62.68H1816.00M1210.30,47.19H1215.30M1821.00,47.19H1816.00M1210.30,31.69H1215.30M1821.00,31.69H1816.00M1210.30,16.20H1215.30M1821.00,16.20H1816.00" stroke="#000" stroke-width="2.4" fill="none"/>
<g clip-path="url(#cC)"><rect x="1587.9" y="341.6" width="105.6" height="200.2" fill="#c8c8c8"/><path d="M1210.3,537.35H1821.0" stroke="#000" stroke-width="3.4"/><path d="M1210.1,522.1L1211.8,511.9L1216.1,503.3L1216.9,497.4L1219.5,516.1L1222.0,510.2L1224.6,494.0L1229.7,532.3L1232.2,532.3L1234.3,505.1L1236.0,522.9L1238.2,520.4L1239.9,523.8L1240.7,530.6L1242.8,517.0L1245.0,557.8L1247.2,527.2L1250.1,528.9L1252.6,527.2L1255.2,551.0L1259.4,525.5L1262.9,530.6L1265.4,534.8L1267.1,557.8L1268.8,534.0L1270.5,557.8L1271.7,517.0L1273.1,557.8L1275.6,552.7L1280.7,530.6L1283.3,557.8L1285.0,551.0L1288.4,549.3L1290.1,544.2L1293.5,554.4L1297.7,551.0L1300.3,557.8L1303.7,544.2L1306.2,551.0L1307.9,542.5L1311.3,544.2L1313.9,542.5L1316.5,545.9L1319.9,557.8L1322.4,544.2L1325.8,520.4L1328.4,557.8L1330.9,544.2L1333.5,551.0L1336.0,544.2L1339.4,557.8L1342.5,531.4L1345.4,557.8L1347.1,557.8L1351.3,542.5L1353.9,540.8L1357.3,549.3L1358.1,557.8L1364.9,559.5L1375.2,559.5L1382.0,557.8L1385.4,549.3L1387.9,557.8L1392.2,557.8L1394.7,534.0L1398.1,557.8L1400.7,551.0L1404.9,537.4L1405.8,557.8L1408.3,557.8L1412.6,527.2L1415.1,552.7L1419.4,547.6L1421.9,551.0L1423.6,530.6L1426.2,520.4L1427.9,515.3L1431.3,512.7L1433.9,529.7L1438.1,506.8L1440.7,507.6L1442.4,505.9L1444.1,491.4L1445.8,535.7L1448.3,510.2L1450.0,534.0L1452.6,499.9L1454.3,513.6L1456.8,520.4L1460.2,494.8L1462.8,499.9L1465.3,557.8L1467.9,522.9L1470.4,524.6L1474.7,548.4L1477.2,545.9L1479.8,542.5L1482.4,539.1L1484.1,528.9L1485.8,540.8L1488.3,551.0L1492.6,551.0L1494.3,557.8L1497.7,527.2L1501.1,523.8L1504.5,512.7L1506.2,534.0L1508.7,557.8L1505.0,512.2L1508.5,555.7L1513.7,520.9L1516.3,548.8L1520.7,526.2L1525.9,550.5L1532.8,507.9L1536.3,512.2L1540.7,555.7L1545.0,528.8L1548.5,551.4L1554.6,547.0L1557.2,525.3L1559.8,549.6L1564.2,514.0L1566.8,523.5L1570.2,524.4L1573.7,555.7L1580.7,520.1L1584.2,550.5L1587.6,551.4L1590.2,507.0L1592.0,489.6L1596.3,502.7L1598.9,489.6L1603.3,522.7L1606.8,517.5L1609.4,494.8L1613.7,502.7L1616.3,487.9L1619.8,493.1L1620.7,477.4L1623.3,495.7L1625.0,465.3L1628.5,454.8L1630.3,432.2L1634.6,447.0L1637.2,409.6L1642.4,433.9L1646.8,406.1L1651.1,487.0L1652.9,480.9L1656.4,420.0L1660.7,507.0L1662.4,498.3L1665.1,528.8L1667.7,500.1L1672.0,503.5L1674.6,501.8L1677.2,532.2L1679.8,505.3L1682.5,514.0L1684.2,551.4L1688.5,507.0L1690.3,528.8L1692.9,493.1L1697.2,538.3L1699.9,541.8L1703.3,555.7L1708.5,531.4L1711.2,529.6L1715.5,555.7L1718.1,531.4L1721.6,527.0L1724.6,492.2L1726.8,524.4L1731.2,550.5L1735.5,514.8L1738.1,548.8L1742.5,518.3L1746.0,520.1L1750.3,555.7L1754.7,545.3L1757.3,555.7L1761.6,534.0L1764.2,555.7L1769.4,540.1L1772.0,541.8L1776.4,548.8L1779.9,555.7L1792.1,555.7L1793.8,548.8L1795.5,555.7L1803.4,555.7L1804.6,547.9L1806.0,555.7L1808.6,552.2L1811.2,555.7L1818.2,555.7L1821.3,555.7" stroke="#000" stroke-width="2.9" fill="none" stroke-miterlimit="3"/></g>
<rect x="1210.30" y="341.60" width="610.70" height="215.50" fill="none" stroke="#000" stroke-width="2.4"/><path d="M1233.79,557.10V552.30M1233.79,341.60V345.80M1351.23,557.10V552.30M1351.23,341.60V345.80M1468.67,557.10V552.30M1468.67,341.60V345.80M1586.12,557.10V552.30M1586.12,341.60V345.80M1703.56,557.10V552.30M1703.56,341.60V345.80M1233.79,557.10V554.70M1233.79,341.60V343.80M1257.28,557.10V554.70M1257.28,341.60V343.80M1280.77,557.10V554.70M1280.77,341.60V343.80M1304.25,557.10V554.70M1304.25,341.60V343.80M1327.74,557.10V554.70M1327.74,341.60V343.80M1351.23,557.10V554.70M1351.23,341.60V343.80M1374.72,557.10V554.70M1374.72,341.60V343.80M1398.21,557.10V554.70M1398.21,341.60V343.80M1421.70,557.10V554.70M1421.70,341.60V343.80M1445.18,557.10V554.70M1445.18,341.60V343.80M1468.67,557.10V554.70M1468.67,341.60V343.80M1492.16,557.10V554.70M1492.16,341.60V343.80M1515.65,557.10V554.70M1515.65,341.60V343.80M1539.14,557.10V554.70M1539.14,341.60V343.80M1562.63,557.10V554.70M1562.63,341.60V343.80M1586.12,557.10V554.70M1586.12,341.60V343.80M1609.60,557.10V554.70M1609.60,341.60V343.80M1633.09,557.10V554.70M1633.09,341.60V343.80M1656.58,557.10V554.70M1656.58,341.60V343.80M1680.07,557.10V554.70M1680.07,341.60V343.80M1703.56,557.10V554.70M1703.56,341.60V343.80M1727.05,557.10V554.70M1727.05,341.60V343.80M1750.53,557.10V554.70M1750.53,341.60V343.80M1774.02,557.10V554.70M1774.02,341.60V343.80M1797.51,557.10V554.70M1797.51,341.60V343.80M1210.30,537.35H1219.50M1821.00,537.35H1811.80M1210.30,497.44H1219.50M1821.00,497.44H1811.80M1210.30,457.53H1219.50M1821.00,457.53H1811.80M1210.30,417.62H1219.50M1821.00,417.62H1811.80M1210.30,377.72H1219.50M1821.00,377.72H1811.80M1210.30,547.32H1214.80M1821.00,547.32H1816.50M1210.30,537.35H1214.80M1821.00,537.35H1816.50M1210.30,527.37H1214.80M1821.00,527.37H1816.50M1210.30,517.39H1214.80M1821.00,517.39H1816.50M1210.30,507.42H1214.80M1821.00,507.42H1816.50M1210.30,497.44H1214.80M1821.00,497.44H1816.50M1210.30,487.46H1214.80M1821.00,487.46H1816.50M1210.30,477.48H1214.80M1821.00,477.48H1816.50M1210.30,467.51H1214.80M1821.00,467.51H1816.50M1210.30,457.53H1214.80M1821.00,457.53H1816.50M1210.30,447.55H1214.80M1821.00,447.55H1816.50M1210.30,437.58H1214.80M1821.00,437.58H1816.50M1210.30,427.60H1214.80M1821.00,427.60H1816.50M1210.30,417.62H1214.80M1821.00,417.62H1816.50M1210.30,407.65H1214.80M1821.00,407.65H1816.50M1210.30,397.67H1214.80M1821.00,397.67H1816.50M1210.30,387.69H1214.80M1821.00,387.69H1816.50M1210.30,377.72H1214.80M1821.00,377.72H1816.50M1210.30,367.74H1214.80M1821.00,367.74H1816.50M1210.30,357.76H1214.80M1821.00,357.76H1816.50M1210.30,347.79H1214.80M1821.00,347.79H1816.50" stroke="#000" stroke-width="2.4" fill="none"/>
<g clip-path="url(#cD)"><rect x="633.8" y="701.8" width="70.0" height="538.4" fill="#c8c8c8"/><path d="M105.0,978.1L109.0,978.9L113.0,979.7L117.0,980.5L121.0,981.3L125.0,982.1L129.0,982.9L133.0,983.7L137.0,984.5L141.0,985.3L145.0,986.1L149.0,986.9L153.0,987.7L157.0,988.5L161.0,989.3L165.0,990.1L169.0,990.9L173.0,991.7L177.0,992.5L181.0,993.3L185.0,994.1L189.0,994.8L193.0,995.6L197.0,996.4L201.0,997.2L205.0,998.0L209.0,998.8L213.0,999.6L217.0,1000.4L221.0,1001.1L225.0,1001.9L229.0,1002.7L233.0,1003.5L237.0,1004.3L241.0,1005.0L245.0,1005.8L249.0,1006.6L253.0,1007.4L257.0,1008.1L261.0,1008.9L265.0,1009.7L269.0,1010.5L273.0,1011.2L277.0,1012.0L281.0,1012.8L285.0,1013.5L289.0,1014.3L293.0,1015.1L297.0,1015.9L301.0,1016.6L305.0,1017.4L309.0,1018.1L313.0,1018.9L317.0,1019.7L321.0,1020.4L325.0,1021.2L329.0,1022.0L333.0,1022.7L337.0,1023.5L341.0,1024.2L345.0,1025.0L349.0,1025.7L353.0,1026.5L357.0,1027.3L361.0,1028.0L365.0,1028.8L369.0,1029.5L373.0,1030.3L377.0,1031.0L381.0,1031.8L385.0,1032.5L389.0,1033.3L393.0,1034.0L397.0,1034.8L401.0,1035.5L405.0,1036.2L409.0,1037.0L413.0,1037.7L417.0,1038.5L421.0,1039.2L425.0,1040.0L429.0,1040.7L433.0,1041.4L437.0,1042.2L441.0,1042.9L445.0,1043.6L449.0,1044.4L453.0,1045.1L457.0,1045.8L461.0,1046.6L465.0,1047.3L469.0,1048.0L473.0,1048.8L477.0,1049.5L481.0,1050.2L485.0,1051.0L489.0,1051.7L493.0,1052.4L497.0,1053.1L501.0,1053.9L505.0,1054.6L509.0,1055.3L513.0,1056.0L517.0,1056.8L521.0,1057.5L525.0,1058.2L529.0,1058.9L533.0,1059.6L537.0,1060.3L541.0,1061.1L545.0,1061.8L549.0,1062.5L553.0,1063.2L557.0,1063.9L561.0,1064.6L565.0,1065.3L569.0,1066.0L573.0,1066.8L577.0,1067.5L581.0,1068.2L585.0,1068.9L589.0,1069.6L593.0,1070.3L597.0,1071.0L601.0,1071.7L605.0,1072.4L609.0,1073.1L613.0,1073.8L617.0,1074.5L621.0,1075.2L625.0,1075.9L629.0,1076.6L633.0,1077.3L637.0,1078.0L641.0,1078.7L645.0,1079.4L649.0,1080.1L653.0,1080.8L657.0,1081.5L661.0,1082.2L665.0,1082.8L669.0,1083.5L673.0,1084.2L677.0,1084.9L681.0,1085.6L685.0,1086.3L689.0,1087.0L693.0,1087.7L697.0,1088.3L701.0,1089.0L705.0,1089.7L709.0,1090.4L713.0,1091.1L717.0,1091.7L721.0,1092.4L725.0,1093.1L729.0,1093.8L733.0,1094.4L737.0,1095.1L741.0,1095.8L745.0,1096.5L749.0,1097.1L753.0,1097.8L757.0,1098.5L761.0,1099.2L765.0,1099.8L769.0,1100.5L773.0,1101.2L777.0,1101.8L781.0,1102.5L785.0,1103.2L789.0,1103.8L793.0,1104.5L797.0,1105.2L801.0,1105.8L805.0,1106.5L809.0,1107.1L813.0,1107.8L817.0,1108.5L821.0,1109.1L825.0,1109.8L829.0,1110.4L833.0,1111.1L837.0,1111.7L841.0,1112.4L845.0,1113.0L849.0,1113.7L853.0,1114.3L857.0,1115.0L861.0,1115.6L865.0,1116.3L869.0,1116.9L873.0,1117.6L877.0,1118.2L881.0,1118.9L885.0,1119.5L889.0,1120.2L893.0,1120.8L897.0,1121.4L901.0,1122.1L905.0,1122.7L909.0,1123.4L913.0,1124.0L917.0,1124.6L921.0,1125.3L925.0,1125.9L929.0,1126.5L933.0,1127.2L937.0,1127.8L941.0,1128.4L945.0,1129.1L949.0,1129.7L953.0,1130.3L957.0,1131.0L961.0,1131.6L965.0,1132.2L969.0,1132.9L973.0,1133.5L977.0,1134.1L981.0,1134.7L985.0,1135.3L989.0,1136.0L993.0,1136.6L997.0,1137.2L1001.0,1137.8L1005.0,1138.5L1009.0,1139.1L1013.0,1139.7L1017.0,1140.3L1021.0,1140.9L1025.0,1141.5L1029.0,1142.1L1033.0,1142.8L1037.0,1143.4L1041.0,1144.0L1045.0,1144.6L1049.0,1145.2L1053.0,1145.8L1056.8,1146.4" stroke="#000" stroke-width="4.0" fill="none"/><path d="M105.8,998.0L108.3,994.7L111.6,990.5L115.7,993.0L119.0,1021.9L122.3,996.3L126.4,999.6L129.7,999.6L133.0,1004.6L136.3,999.6L140.4,988.9L143.7,988.1L147.0,1018.6L151.2,1013.6L154.5,986.4L157.8,979.8L161.1,990.5L166.0,988.9L171.8,988.9L175.1,1010.3L179.2,998.8L182.5,985.6L185.8,990.5L189.9,988.1L193.2,990.5L196.5,1001.3L199.8,995.5L203.6,1012.0L207.3,993.0L211.4,992.2L213.9,1023.5L217.2,999.6L221.3,1004.6L225.4,1007.9L228.7,1021.1L232.0,1038.4L235.3,1007.9L238.6,998.8L241.9,1025.2L246.0,1030.1L249.3,1030.1L252.6,1016.9L256.4,1029.3L260.1,1016.9L263.4,1012.0L267.5,1016.9L270.8,1020.2L274.1,1041.7L277.4,1007.9L281.2,1041.7L284.8,1007.0L288.1,1016.9L291.4,1031.8L296.4,1012.8L302.1,1008.7L305.4,1010.3L308.7,1027.7L312.9,1026.8L317.0,1025.2L323.6,1010.3L326.9,1036.7L330.7,1049.1L334.0,1030.1L337.6,1010.3L340.9,1013.6L344.2,1012.8L348.3,1011.2L351.7,1031.8L355.0,1012.8L359.1,1023.5L362.4,1031.8L365.7,1020.2L369.0,1023.5L373.1,1036.7L377.2,1029.3L383.5,1049.1L387.1,1035.1L393.7,1038.4L383.3,1049.1L386.6,1035.9L390.7,1032.6L394.0,1039.2L397.3,1034.3L400.6,1021.1L408.1,1023.5L411.4,1016.9L415.5,1031.0L421.3,1042.5L425.4,1049.1L429.5,1049.1L432.8,1045.0L436.1,1035.1L439.4,1045.8L442.7,1035.1L446.8,1031.0L450.1,1021.9L454.3,1027.7L457.6,1042.5L460.9,1052.4L465.0,1057.4L468.3,1064.8L471.6,1044.2L474.9,1059.8L478.2,1045.0L482.3,1031.8L485.6,1040.0L489.7,1043.3L493.0,1055.7L496.3,1059.8L499.6,1021.1L503.4,1042.5L507.1,1050.8L510.4,1056.5L513.7,1035.9L517.0,1049.9L521.9,1049.1L525.2,1048.3L528.2,1040.9L531.0,1054.1L534.3,1049.1L537.6,1054.9L541.7,1063.1L545.8,1040.9L550.0,1047.5L553.3,1045.8L556.6,1041.7L559.9,1056.5L563.2,1057.4L569.8,1065.6L573.1,1067.3L577.2,1034.3L584.6,1065.6L594.5,1037.6L601.9,1063.1L608.5,1031.0L612.7,1046.6L618.9,1025.2L622.6,1054.9L626.7,1065.6L630.8,1031.0L633.3,1002.9L635.8,1003.7L639.1,1006.2L644.9,993.0L654.6,811.8L662.2,761.4L665.9,834.9L669.3,792.9L673.5,851.7L679.8,883.2L684.0,958.8L689.5,1074.3L694.5,1070.1L700.8,1059.6L707.1,1057.5L711.3,1084.8L717.6,1042.8L721.8,1074.3L726.0,1040.7L734.4,1086.9L742.8,1042.8L749.1,1030.2L753.3,1030.2L759.6,1074.3L763.8,1047.0L770.1,1097.4L774.3,1072.2L778.5,1084.8L784.8,1068.0L789.0,1080.6L797.4,1068.0L805.8,1080.6L809.4,1080.7L813.5,1101.3L816.8,1086.4L820.9,1093.9L823.4,1086.4L827.5,1106.2L830.8,1086.4L834.4,1117.7L837.4,1085.6L841.5,1074.9L844.8,1089.7L848.9,1110.3L852.2,1088.9L855.8,1084.8L858.8,1122.7L862.9,1110.3L866.2,1093.9L869.5,1102.1L872.8,1135.0L876.9,1124.3L880.2,1100.4L883.5,1107.9L887.6,1107.9L890.9,1155.6L894.2,1136.7L898.3,1135.0L901.6,1136.7L904.9,1155.6L909.0,1135.8L912.3,1115.3L915.6,1167.1L919.4,1171.2L923.0,1121.9L926.3,1127.6L929.6,1121.9L932.9,1149.0L936.5,1107.9L940.3,1112.0L944.1,1142.4L947.7,1124.3L951.0,1126.8L954.6,1123.5L957.6,1152.3L961.2,1154.0L965.0,1136.7L968.3,1115.3L972.1,1147.4L975.7,1153.1L978.7,1137.5L982.3,1161.4L986.4,1158.9L989.7,1111.1L993.0,1125.1L996.8,1120.2L1000.4,1144.9L1007.0,1154.8L1010.6,1123.5L1014.4,1137.5L1021.0,1111.1L1025.1,1143.3L1030.0,1151.5L1035.3,1158.1L1038.3,1132.6L1042.4,1116.1L1045.7,1126.8L1049.0,1112.8L1054.7,1131.7L1055.9,1141.6" stroke="#000" stroke-width="2.7" fill="none" stroke-miterlimit="3"/><g fill="#00ff00"><circle cx="140.4" cy="988.9" r="2.6"/><circle cx="143.7" cy="988.1" r="2.6"/><circle cx="147.0" cy="1018.6" r="2.6"/><circle cx="151.2" cy="1013.6" r="2.6"/><circle cx="154.5" cy="986.4" r="2.6"/><circle cx="157.8" cy="979.8" r="2.6"/><circle cx="161.1" cy="990.5" r="2.6"/><circle cx="166.0" cy="988.9" r="2.6"/><circle cx="171.8" cy="988.9" r="2.6"/><circle cx="175.1" cy="1010.3" r="2.6"/><circle cx="179.2" cy="998.8" r="2.6"/><circle cx="182.5" cy="985.6" r="2.6"/><circle cx="185.8" cy="990.5" r="2.6"/><circle cx="189.9" cy="988.1" r="2.6"/><circle cx="193.2" cy="990.5" r="2.6"/><circle cx="196.5" cy="1001.3" r="2.6"/><circle cx="199.8" cy="995.5" r="2.6"/><circle cx="203.6" cy="1012.0" r="2.6"/><circle cx="207.3" cy="993.0" r="2.6"/><circle cx="211.4" cy="992.2" r="2.6"/><circle cx="213.9" cy="1023.5" r="2.6"/><circle cx="217.2" cy="999.6" r="2.6"/><circle cx="221.3" cy="1004.6" r="2.6"/><circle cx="225.4" cy="1007.9" r="2.6"/><circle cx="228.7" cy="1021.1" r="2.6"/><circle cx="232.0" cy="1038.4" r="2.6"/><circle cx="235.3" cy="1007.9" r="2.6"/><circle cx="238.6" cy="998.8" r="2.6"/><circle cx="241.9" cy="1025.2" r="2.6"/><circle cx="246.0" cy="1030.1" r="2.6"/><circle cx="249.3" cy="1030.1" r="2.6"/><circle cx="252.6" cy="1016.9" r="2.6"/><circle cx="256.4" cy="1029.3" r="2.6"/><circle cx="260.1" cy="1016.9" r="2.6"/><circle cx="263.4" cy="1012.0" r="2.6"/><circle cx="267.5" cy="1016.9" r="2.6"/><circle cx="270.8" cy="1020.2" r="2.6"/><circle cx="274.1" cy="1041.7" r="2.6"/><circle cx="277.4" cy="1007.9" r="2.6"/><circle cx="281.2" cy="1041.7" r="2.6"/><circle cx="284.8" cy="1007.0" r="2.6"/><circle cx="288.1" cy="1016.9" r="2.6"/><circle cx="291.4" cy="1031.8" r="2.6"/><circle cx="296.4" cy="1012.8" r="2.6"/><circle cx="302.1" cy="1008.7" r="2.6"/><circle cx="305.4" cy="1010.3" r="2.6"/><circle cx="308.7" cy="1027.7" r="2.6"/><circle cx="312.9" cy="1026.8" r="2.6"/><circle cx="317.0" cy="1025.2" r="2.6"/><circle cx="323.6" cy="1010.3" r="2.6"/><circle cx="326.9" cy="1036.7" r="2.6"/><circle cx="330.7" cy="1049.1" r="2.6"/><circle cx="334.0" cy="1030.1" r="2.6"/><circle cx="337.6" cy="1010.3" r="2.6"/><circle cx="340.9" cy="1013.6" r="2.6"/><circle cx="344.2" cy="1012.8" r="2.6"/><circle cx="348.3" cy="1011.2" r="2.6"/><circle cx="351.7" cy="1031.8" r="2.6"/><circle cx="355.0" cy="1012.8" r="2.6"/><circle cx="359.1" cy="1023.5" r="2.6"/><circle cx="362.4" cy="1031.8" r="2.6"/><circle cx="365.7" cy="1020.2" r="2.6"/><circle cx="369.0" cy="1023.5" r="2.6"/><circle cx="373.1" cy="1036.7" r="2.6"/><circle cx="377.2" cy="1029.3" r="2.6"/><circle cx="383.5" cy="1049.1" r="2.6"/><circle cx="387.1" cy="1035.1" r="2.6"/><circle cx="393.7" cy="1038.4" r="2.6"/><circle cx="383.3" cy="1049.1" r="2.6"/><circle cx="386.6" cy="1035.9" r="2.6"/><circle cx="390.7" cy="1032.6" r="2.6"/><circle cx="394.0" cy="1039.2" r="2.6"/><circle cx="397.3" cy="1034.3" r="2.6"/><circle cx="400.6" cy="1021.1" r="2.6"/><circle cx="408.1" cy="1023.5" r="2.6"/><circle cx="411.4" cy="1016.9" r="2.6"/><circle cx="415.5" cy="1031.0" r="2.6"/><circle cx="421.3" cy="1042.5" r="2.6"/><circle cx="425.4" cy="1049.1" r="2.6"/><circle cx="429.5" cy="1049.1" r="2.6"/><circle cx="432.8" cy="1045.0" r="2.6"/><circle cx="436.1" cy="1035.1" r="2.6"/><circle cx="439.4" cy="1045.8" r="2.6"/><circle cx="442.7" cy="1035.1" r="2.6"/><circle cx="446.8" cy="1031.0" r="2.6"/><circle cx="450.1" cy="1021.9" r="2.6"/><circle cx="454.3" cy="1027.7" r="2.6"/><circle cx="457.6" cy="1042.5" r="2.6"/><circle cx="460.9" cy="1052.4" r="2.6"/><circle cx="465.0" cy="1057.4" r="2.6"/><circle cx="468.3" cy="1064.8" r="2.6"/><circle cx="471.6" cy="1044.2" r="2.6"/><circle cx="474.9" cy="1059.8" r="2.6"/><circle cx="478.2" cy="1045.0" r="2.6"/><circle cx="482.3" cy="1031.8" r="2.6"/><circle cx="485.6" cy="1040.0" r="2.6"/><circle cx="489.7" cy="1043.3" r="2.6"/><circle cx="493.0" cy="1055.7" r="2.6"/><circle cx="496.3" cy="1059.8" r="2.6"/><circle cx="499.6" cy="1021.1" r="2.6"/><circle cx="503.4" cy="1042.5" r="2.6"/><circle cx="507.1" cy="1050.8" r="2.6"/><circle cx="510.4" cy="1056.5" r="2.6"/><circle cx="513.7" cy="1035.9" r="2.6"/><circle cx="517.0" cy="1049.9" r="2.6"/><circle cx="521.9" cy="1049.1" r="2.6"/><circle cx="525.2" cy="1048.3" r="2.6"/><circle cx="528.2" cy="1040.9" r="2.6"/><circle cx="844.8" cy="1089.7" r="2.6"/><circle cx="848.9" cy="1110.3" r="2.6"/><circle cx="852.2" cy="1088.9" r="2.6"/><circle cx="855.8" cy="1084.8" r="2.6"/><circle cx="858.8" cy="1122.7" r="2.6"/><circle cx="862.9" cy="1110.3" r="2.6"/><circle cx="866.2" cy="1093.9" r="2.6"/><circle cx="869.5" cy="1102.1" r="2.6"/><circle cx="872.8" cy="1135.0" r="2.6"/><circle cx="876.9" cy="1124.3" r="2.6"/><circle cx="880.2" cy="1100.4" r="2.6"/><circle cx="883.5" cy="1107.9" r="2.6"/><circle cx="887.6" cy="1107.9" r="2.6"/><circle cx="890.9" cy="1155.6" r="2.6"/><circle cx="894.2" cy="1136.7" r="2.6"/><circle cx="898.3" cy="1135.0" r="2.6"/><circle cx="901.6" cy="1136.7" r="2.6"/><circle cx="904.9" cy="1155.6" r="2.6"/><circle cx="909.0" cy="1135.8" r="2.6"/><circle cx="912.3" cy="1115.3" r="2.6"/><circle cx="915.6" cy="1167.1" r="2.6"/><circle cx="919.4" cy="1171.2" r="2.6"/><circle cx="923.0" cy="1121.9" r="2.6"/><circle cx="926.3" cy="1127.6" r="2.6"/><circle cx="929.6" cy="1121.9" r="2.6"/><circle cx="932.9" cy="1149.0" r="2.6"/><circle cx="936.5" cy="1107.9" r="2.6"/><circle cx="940.3" cy="1112.0" r="2.6"/><circle cx="944.1" cy="1142.4" r="2.6"/><circle cx="947.7" cy="1124.3" r="2.6"/><circle cx="951.0" cy="1126.8" r="2.6"/><circle cx="954.6" cy="1123.5" r="2.6"/><circle cx="957.6" cy="1152.3" r="2.6"/><circle cx="961.2" cy="1154.0" r="2.6"/><circle cx="965.0" cy="1136.7" r="2.6"/><circle cx="968.3" cy="1115.3" r="2.6"/><circle cx="972.1" cy="1147.4" r="2.6"/><circle cx="975.7" cy="1153.1" r="2.6"/><circle cx="978.7" cy="1137.5" r="2.6"/><circle cx="982.3" cy="1161.4" r="2.6"/><circle cx="986.4" cy="1158.9" r="2.6"/></g><path d="M389.9,1032.6L391.4,1033.0L392.9,1033.4L394.4,1033.8L395.9,1034.2L397.4,1034.6L398.9,1035.0L400.4,1035.4L401.9,1035.8L403.4,1036.2L404.9,1036.6L406.4,1037.0L407.9,1037.4L409.4,1037.8L410.9,1038.2L412.4,1038.6L413.9,1038.9L415.4,1039.3L416.9,1039.7L418.4,1040.0L419.9,1040.4L421.4,1040.7L422.9,1041.1L424.4,1041.4L425.9,1041.7L427.4,1042.1L428.9,1042.4L430.4,1042.7L431.9,1043.0L433.4,1043.3L434.9,1043.6L436.4,1043.9L437.9,1044.1L439.4,1044.4L440.9,1044.7L442.4,1044.9L443.9,1045.2L445.4,1045.4L446.9,1045.7L448.4,1045.9L449.9,1046.1L451.4,1046.4L452.9,1046.6L454.4,1046.8L455.9,1047.0L457.4,1047.2L458.9,1047.5L460.4,1047.7L461.9,1047.9L463.4,1048.1L464.9,1048.3L466.4,1048.5L467.9,1048.7L469.4,1048.9L470.9,1049.1L472.4,1049.3L473.9,1049.5L475.4,1049.7L476.9,1049.9L478.4,1050.1L479.9,1050.3L481.4,1050.5L482.9,1050.7L484.4,1050.9L485.9,1051.1L487.4,1051.3L488.9,1051.5L490.4,1051.6L491.9,1051.8L493.4,1052.0L494.9,1052.1L496.4,1052.3L497.9,1052.4L499.4,1052.5L500.9,1052.6L502.4,1052.8L503.9,1052.9L505.4,1052.9L506.9,1053.0L508.4,1053.1L509.9,1053.2L511.4,1053.2L512.9,1053.3L514.4,1053.3L515.9,1053.3L517.4,1053.3L518.9,1053.2L520.4,1053.2L521.9,1053.1L523.4,1053.0L524.9,1052.9L526.4,1052.7L527.9,1052.5L529.4,1052.3L530.9,1052.0L532.4,1051.7L533.9,1051.4L535.4,1051.0L536.9,1050.7L538.4,1050.4L539.9,1050.0L541.4,1049.7L542.9,1049.4L544.4,1049.2L545.9,1049.0L547.4,1048.8L548.9,1048.7L550.4,1048.6L551.9,1048.5L553.4,1048.4L554.9,1048.4L556.4,1048.3L557.9,1048.3L559.4,1048.2L560.9,1048.2L562.4,1048.1L563.9,1048.0L565.4,1047.9L566.9,1047.8L568.4,1047.6L569.9,1047.4L571.4,1047.2L572.9,1046.9L574.4,1046.6L575.9,1046.3L577.4,1045.9L578.9,1045.5L580.4,1045.2L581.9,1044.8L583.4,1044.4L584.9,1044.1L586.4,1043.7L587.9,1043.4L589.4,1043.1L590.9,1042.9L592.4,1042.7L593.9,1042.6L595.4,1042.5L596.9,1042.4L598.4,1042.4L599.9,1042.5L601.4,1042.6L602.9,1042.7L604.4,1042.8L605.9,1042.9L607.4,1043.0L608.9,1043.1L610.4,1043.2L611.9,1043.3L613.4,1043.3L614.9,1043.3L616.4,1043.3L617.9,1043.2L619.4,1043.1L620.9,1042.9L622.4,1042.7L623.9,1042.6L625.4,1042.4L626.9,1042.2L628.4,1042.1L629.9,1041.9L631.4,1041.8L632.9,1041.7L634.4,1041.7L635.9,1041.7L637.4,1041.7L638.9,1041.8L640.4,1042.0L641.9,1042.2L643.4,1042.4L644.9,1042.6L646.4,1042.9L647.9,1043.2L649.4,1043.5L650.9,1043.8L652.4,1044.2L653.9,1044.5L655.4,1044.9L656.9,1045.2L658.4,1045.6L659.9,1045.9L661.4,1046.3L662.9,1046.6L664.4,1046.9L665.9,1047.3L667.4,1047.6L668.9,1047.9L670.4,1048.2L671.9,1048.5L673.4,1048.8L674.9,1049.1L676.4,1049.4L677.9,1049.6L679.4,1049.8L680.9,1050.1L682.4,1050.3L683.9,1050.4L685.4,1050.6L686.9,1050.7L688.4,1050.9L689.9,1051.0L691.4,1051.1L692.9,1051.2L694.4,1051.3L695.9,1051.4L697.4,1051.4L698.9,1051.5L700.4,1051.5L701.9,1051.6L703.4,1051.6L704.9,1051.7L706.4,1051.7L707.9,1051.7L709.4,1051.7L710.9,1051.7L712.4,1051.8L713.9,1051.8L715.4,1051.8L716.9,1051.8L718.4,1051.8L719.9,1051.8L721.4,1051.9L722.9,1051.9L724.4,1051.9L725.9,1052.0L727.4,1052.0L728.9,1052.1L730.4,1052.2L731.9,1052.2L733.4,1052.3L734.9,1052.4L736.4,1052.5L737.9,1052.6L739.4,1052.8L740.9,1052.9L742.4,1053.1L743.9,1053.2L745.4,1053.4L746.9,1053.7L748.4,1053.9L749.9,1054.1L751.4,1054.4L752.9,1054.7L754.4,1055.0L755.9,1055.3L757.4,1055.7L758.9,1056.1L760.4,1056.5L761.9,1056.9L763.4,1057.4L764.9,1057.8L766.4,1058.4L767.9,1058.9L769.4,1059.5L770.9,1060.1L772.4,1060.7L773.9,1061.4L775.4,1062.1L776.9,1062.8L778.4,1063.6L779.9,1064.3L781.4,1065.2L782.9,1066.0L784.4,1066.9L785.9,1067.8L787.4,1068.8L788.9,1069.7L790.4,1070.7L791.9,1071.7L793.4,1072.8L794.9,1073.8L796.4,1074.9L797.9,1075.9L799.4,1076.9L800.9,1077.9L802.4,1078.9L803.9,1079.8L805.4,1080.6L806.9,1081.3L808.4,1082.0L809.9,1082.5L811.4,1082.9L812.9,1083.2L814.4,1083.5L815.9,1083.7L817.4,1083.8L818.9,1083.8L820.4,1083.9L821.9,1083.9L823.4,1083.9L824.9,1083.9L826.4,1084.0L827.9,1084.1L829.4,1084.2L830.9,1084.3L832.4,1084.5L833.9,1084.7L835.4,1084.9L836.9,1085.1L838.4,1085.3L839.9,1085.5L840.7,1085.6" stroke="#ff8000" stroke-width="3.6" fill="none"/><rect x="556.2" y="989.7" width="70.5" height="9.4" fill="#000"/><rect x="704.2" y="989.3" width="122.6" height="9.4" fill="#000"/></g>
<rect x="105.00" y="686.30" width="951.80" height="556.90" fill="none" stroke="#000" stroke-width="2.4"/><path d="M210.76,1243.20V1232.40M210.76,686.30V697.10M387.01,1243.20V1232.40M387.01,686.30V697.10M563.27,1243.20V1232.40M563.27,686.30V697.10M739.53,1243.20V1232.40M739.53,686.30V697.10M915.79,1243.20V1232.40M915.79,686.30V697.10M140.25,1243.20V1237.80M140.25,686.30V691.70M175.50,1243.20V1237.80M175.50,686.30V691.70M210.76,1243.20V1237.80M210.76,686.30V691.70M246.01,1243.20V1237.80M246.01,686.30V691.70M281.26,1243.20V1237.80M281.26,686.30V691.70M316.51,1243.20V1237.80M316.51,686.30V691.70M351.76,1243.20V1237.80M351.76,686.30V691.70M387.01,1243.20V1237.80M387.01,686.30V691.70M422.27,1243.20V1237.80M422.27,686.30V691.70M457.52,1243.20V1237.80M457.52,686.30V691.70M492.77,1243.20V1237.80M492.77,686.30V691.70M528.02,1243.20V1237.80M528.02,686.30V691.70M563.27,1243.20V1237.80M563.27,686.30V691.70M598.53,1243.20V1237.80M598.53,686.30V691.70M633.78,1243.20V1237.80M633.78,686.30V691.70M669.03,1243.20V1237.80M669.03,686.30V691.70M704.28,1243.20V1237.80M704.28,686.30V691.70M739.53,1243.20V1237.80M739.53,686.30V691.70M774.79,1243.20V1237.80M774.79,686.30V691.70M810.04,1243.20V1237.80M810.04,686.30V691.70M845.29,1243.20V1237.80M845.29,686.30V691.70M880.54,1243.20V1237.80M880.54,686.30V691.70M915.79,1243.20V1237.80M915.79,686.30V691.70M951.04,1243.20V1237.80M951.04,686.30V691.70M986.30,1243.20V1237.80M986.30,686.30V691.70M1021.55,1243.20V1237.80M1021.55,686.30V691.70M105.00,1096.65H119.00M1056.80,1096.65H1042.80M105.00,950.09H119.00M1056.80,950.09H1042.80M105.00,803.54H119.00M1056.80,803.54H1042.80M105.00,1228.54H112.40M1056.80,1228.54H1049.40M105.00,1213.89H112.40M1056.80,1213.89H1049.40M105.00,1199.23H112.40M1056.80,1199.23H1049.40M105.00,1184.58H112.40M1056.80,1184.58H1049.40M105.00,1169.92H112.40M1056.80,1169.92H1049.40M105.00,1155.27H112.40M1056.80,1155.27H1049.40M105.00,1140.61H112.40M1056.80,1140.61H1049.40M105.00,1125.96H112.40M1056.80,1125.96H1049.40M105.00,1111.30H112.40M1056.80,1111.30H1049.40M105.00,1096.65H112.40M1056.80,1096.65H1049.40M105.00,1081.99H112.40M1056.80,1081.99H1049.40M105.00,1067.34H112.40M1056.80,1067.34H1049.40M105.00,1052.68H112.40M1056.80,1052.68H1049.40M105.00,1038.03H112.40M1056.80,1038.03H1049.40M105.00,1023.37H112.40M1056.80,1023.37H1049.40M105.00,1008.72H112.40M1056.80,1008.72H1049.40M105.00,994.06H112.40M1056.80,994.06H1049.40M105.00,979.41H112.40M1056.80,979.41H1049.40M105.00,964.75H112.40M1056.80,964.75H1049.40M105.00,950.09H112.40M1056.80,950.09H1049.40M105.00,935.44H112.40M1056.80,935.44H1049.40M105.00,920.78H112.40M1056.80,920.78H1049.40M105.00,906.13H112.40M1056.80,906.13H1049.40M105.00,891.47H112.40M1056.80,891.47H1049.40M105.00,876.82H112.40M1056.80,876.82H1049.40M105.00,862.16H112.40M1056.80,862.16H1049.40M105.00,847.51H112.40M1056.80,847.51H1049.40M105.00,832.85H112.40M1056.80,832.85H1049.40M105.00,818.20H112.40M1056.80,818.20H1049.40M105.00,803.54H112.40M1056.80,803.54H1049.40M105.00,788.89H112.40M1056.80,788.89H1049.40M105.00,774.23H112.40M1056.80,774.23H1049.40M105.00,759.58H112.40M1056.80,759.58H1049.40M105.00,744.92H112.40M1056.80,744.92H1049.40M105.00,730.27H112.40M1056.80,730.27H1049.40M105.00,715.61H112.40M1056.80,715.61H1049.40M105.00,700.96H112.40M1056.80,700.96H1049.40" stroke="#000" stroke-width="2.4" fill="none"/>
<g clip-path="url(#cE)"><rect x="1464.9" y="729.4" width="101.9" height="297.9" fill="#c8c8c8"/><path d="M1210.3,998.92H1821.0" stroke="#000" stroke-width="3.3"/><path d="M1210.1,1000.0L1215.2,1006.4L1220.3,1010.2L1225.4,1016.6L1230.5,994.9L1235.6,1009.0L1245.8,980.9L1250.9,988.5L1256.0,991.1L1266.2,1006.4L1271.3,968.1L1276.4,987.3L1281.6,996.2L1286.7,1000.0L1291.8,979.6L1296.9,993.6L1307.1,991.1L1312.2,979.6L1317.3,998.8L1322.4,989.8L1327.5,992.4L1332.6,1002.6L1337.7,978.3L1342.8,983.4L1347.9,986.0L1353.0,975.8L1358.1,993.6L1363.2,992.4L1368.3,996.2L1373.4,1000.0L1378.5,998.8L1383.6,966.9L1388.7,980.9L1393.8,997.5L1398.9,978.3L1404.0,973.2L1409.1,968.1L1414.2,978.3L1419.3,991.1L1429.5,957.9L1434.7,973.2L1444.9,950.3L1450.0,980.9L1455.1,988.5L1457.9,968.8L1464.4,925.5L1469.7,930.7L1474.9,921.5L1480.2,915.0L1485.4,841.5L1490.7,795.5L1495.9,740.4L1499.9,714.1L1505.1,687.9L1510.4,760.1L1515.6,716.8L1520.4,775.8L1526.1,785.0L1531.4,804.7L1536.6,890.0L1545.8,987.2L1551.1,983.2L1556.3,984.5L1560.3,975.4L1565.5,972.7L1572.1,966.2L1577.3,993.7L1581.3,964.9L1586.5,968.8L1591.8,983.2L1597.0,947.8L1602.3,962.2L1607.5,971.4L1612.8,991.1L1618.0,981.9L1622.0,946.5L1627.2,953.0L1632.5,937.3L1637.7,933.3L1643.0,964.9L1648.2,976.7L1653.5,947.8L1658.7,957.0L1664.0,996.4L1669.2,972.7L1673.2,984.5L1678.4,981.9L1682.3,964.9L1688.9,978.0L1695.5,975.4L1703.3,960.9L1709.9,971.4L1717.8,971.4L1724.4,991.1L1728.3,974.0L1733.5,976.7L1738.8,976.7L1744.0,993.7L1749.3,975.4L1754.5,1005.5L1759.8,968.8L1765.0,962.2L1770.3,976.7L1775.5,996.4L1780.8,974.0L1786.0,970.1L1791.3,1004.2L1800.5,975.4L1805.7,984.5L1811.0,1014.7L1816.2,1001.6L1821.5,980.6" stroke="#000" stroke-width="2.8" fill="none" stroke-miterlimit="3"/><path d="M1210.1,999.3L1211.6,999.3L1213.1,999.3L1214.6,999.3L1216.1,999.4L1217.6,999.4L1219.1,999.4L1220.6,999.4L1222.1,999.5L1223.6,999.5L1225.1,999.5L1226.6,999.5L1228.1,999.5L1229.6,999.5L1231.1,999.5L1232.6,999.5L1234.1,999.5L1235.6,999.5L1237.1,999.5L1238.6,999.5L1240.1,999.4L1241.6,999.4L1243.1,999.4L1244.6,999.3L1246.1,999.3L1247.6,999.2L1249.1,999.1L1250.6,999.1L1252.1,999.0L1253.6,998.9L1255.1,998.8L1256.6,998.7L1258.1,998.6L1259.6,998.5L1261.1,998.4L1262.6,998.2L1264.1,998.1L1265.6,997.9L1267.1,997.8L1268.6,997.6L1270.1,997.5L1271.6,997.3L1273.1,997.2L1274.6,997.0L1276.1,996.8L1277.6,996.6L1279.1,996.5L1280.6,996.3L1282.1,996.1L1283.6,996.0L1285.1,995.8L1286.6,995.6L1288.1,995.4L1289.6,995.3L1291.1,995.1L1292.6,994.9L1294.1,994.7L1295.6,994.5L1297.1,994.2L1298.6,994.0L1300.1,993.8L1301.6,993.5L1303.1,993.2L1304.6,992.9L1306.1,992.6L1307.6,992.2L1309.1,991.9L1310.6,991.5L1312.1,991.1L1313.6,990.7L1315.1,990.3L1316.6,989.9L1318.1,989.5L1319.6,989.1L1321.1,988.7L1322.6,988.3L1324.1,987.9L1325.6,987.5L1327.1,987.1L1328.6,986.8L1330.1,986.5L1331.6,986.2L1333.1,985.9L1334.6,985.7L1336.1,985.4L1337.6,985.3L1339.1,985.1L1340.6,984.9L1342.1,984.8L1343.6,984.7L1345.1,984.5L1346.6,984.4L1348.1,984.3L1349.6,984.2L1351.1,984.1L1352.6,984.0L1354.1,983.8L1355.6,983.7L1357.1,983.6L1358.6,983.4L1360.1,983.2L1361.6,983.0L1363.1,982.8L1364.6,982.5L1366.1,982.3L1367.6,982.0L1369.1,981.7L1370.6,981.4L1372.1,981.1L1373.6,980.8L1375.1,980.4L1376.6,980.1L1378.1,979.7L1379.6,979.4L1381.1,979.0L1382.6,978.6L1384.1,978.2L1385.6,977.8L1387.1,977.4L1388.6,977.0L1390.1,976.6L1391.6,976.2L1393.1,975.8L1394.6,975.4L1396.1,975.0L1397.6,974.6L1399.1,974.2L1400.6,973.9L1402.1,973.5L1403.6,973.1L1405.1,972.8L1406.6,972.5L1408.1,972.2L1409.6,971.9L1411.1,971.6L1412.6,971.3L1414.1,971.1L1415.6,970.9L1417.1,970.7L1418.6,970.5L1420.1,970.3L1421.6,970.2L1423.1,970.0L1424.6,969.9L1426.1,969.8L1427.6,969.7L1429.1,969.6L1430.6,969.5L1432.1,969.5L1433.6,969.4L1435.1,969.4L1436.6,969.4L1438.1,969.4L1439.6,969.3L1441.1,969.3L1442.6,969.3L1444.1,969.2L1445.6,969.2L1447.1,969.1L1448.6,968.9L1450.1,968.8L1451.6,968.6L1453.1,968.3L1454.6,968.1L1456.1,967.8L1457.6,967.5L1459.1,967.1L1460.6,966.8L1462.1,966.4L1463.6,966.1L1465.1,965.7L1466.6,965.4L1468.1,965.0L1469.6,964.7L1471.1,964.4L1472.6,964.1L1474.1,963.8L1475.6,963.6L1477.1,963.4L1478.6,963.3L1480.1,963.2L1481.6,963.1L1483.1,963.0L1484.6,963.0L1486.1,963.0L1487.6,963.0L1489.1,963.1L1490.6,963.2L1492.1,963.2L1493.6,963.3L1495.1,963.4L1496.6,963.6L1498.1,963.7L1499.6,963.8L1501.1,963.9L1502.6,964.1L1504.1,964.2L1505.6,964.3L1507.1,964.4L1508.6,964.6L1510.1,964.7L1511.6,964.8L1513.1,964.9L1514.6,964.9L1516.1,965.0L1517.6,965.0L1519.1,965.1L1520.6,965.1L1522.1,965.1L1523.6,965.1L1525.1,965.0L1526.6,965.0L1528.1,964.9L1529.6,964.8L1531.1,964.7L1532.6,964.5L1534.1,964.3L1535.6,964.2L1537.1,964.0L1538.6,963.7L1540.1,963.5L1541.6,963.3L1543.1,963.1L1544.6,962.8L1546.1,962.6L1547.6,962.4L1549.1,962.2L1550.6,962.0L1552.1,961.8L1553.6,961.6L1555.1,961.4L1556.6,961.3L1558.1,961.2L1559.6,961.0L1561.1,961.0L1562.6,960.9L1564.1,960.9L1565.6,960.9L1567.1,960.9L1568.6,960.9L1570.1,961.0L1571.6,961.1L1573.1,961.2L1574.6,961.4L1576.1,961.6L1577.6,961.7L1579.1,961.9L1580.6,962.1L1582.1,962.3L1583.6,962.6L1585.1,962.8L1586.6,963.0L1588.1,963.2L1589.6,963.4L1591.1,963.6L1592.6,963.8L1594.1,964.0L1595.6,964.2L1597.1,964.3L1598.6,964.5L1600.1,964.6L1601.6,964.7L1603.1,964.8L1604.6,964.8L1606.1,964.8L1607.6,964.9L1609.1,964.8L1610.6,964.8L1612.1,964.7L1613.6,964.6L1615.1,964.4L1616.6,964.3L1618.1,964.1L1619.6,963.9L1621.1,963.7L1622.6,963.5L1624.1,963.3L1625.6,963.1L1627.1,962.8L1628.6,962.6L1630.1,962.3L1631.6,962.1L1633.1,961.8L1634.6,961.6L1636.1,961.3L1637.6,961.1L1639.1,960.8L1640.6,960.6L1642.1,960.4L1643.6,960.2L1645.1,960.0L1646.6,959.8L1648.1,959.6L1649.6,959.5L1651.1,959.4L1652.6,959.2L1654.1,959.2L1655.6,959.1L1657.1,959.1L1658.6,959.1L1660.1,959.1L1661.6,959.1L1663.1,959.2L1664.6,959.3L1666.1,959.5L1667.6,959.7L1669.1,960.0L1670.6,960.3L1672.1,960.6L1673.6,961.0L1675.1,961.5L1676.6,962.0L1678.1,962.6L1679.6,963.2L1681.1,963.8L1682.6,964.5L1684.1,965.2L1685.6,965.9L1687.1,966.5L1688.6,967.2L1690.1,967.9L1691.6,968.5L1693.1,969.2L1694.6,969.8L1696.1,970.3L1697.6,970.8L1699.1,971.3L1700.6,971.8L1702.1,972.1L1703.6,972.5L1705.1,972.8L1706.6,973.1L1708.1,973.3L1709.6,973.6L1711.1,973.8L1712.6,974.1L1714.1,974.3L1715.6,974.5L1717.1,974.7L1718.6,975.0L1720.1,975.1L1721.6,975.3L1723.1,975.3L1724.6,975.4L1726.1,975.3L1727.6,975.2L1729.1,975.1L1730.6,974.9L1732.1,974.6L1733.6,974.4L1735.1,974.1L1736.6,973.9L1738.1,973.6L1739.6,973.4L1741.1,973.2L1742.6,973.0L1744.1,972.9L1745.6,972.8L1747.1,972.7L1748.6,972.7L1750.1,972.6L1751.6,972.6L1753.1,972.6L1754.6,972.6L1756.1,972.6L1757.6,972.6L1759.1,972.6L1760.6,972.6L1762.1,972.7L1763.6,972.7L1763.7,972.7" stroke="#ff8000" stroke-width="4.0" fill="none"/><rect x="1353.0" y="923.6" width="101.6" height="9.2" fill="#000"/><rect x="1566.8" y="923.5" width="177.8" height="9.2" fill="#000"/></g>
<rect x="1210.30" y="686.80" width="610.70" height="340.50" fill="none" stroke="#000" stroke-width="1.4"/><path d="M1261.19,1027.30V1020.80M1261.19,686.80V694.20M1362.97,1027.30V1020.80M1362.97,686.80V694.20M1464.76,1027.30V1020.80M1464.76,686.80V694.20M1566.54,1027.30V1020.80M1566.54,686.80V694.20M1668.33,1027.30V1020.80M1668.33,686.80V694.20M1770.11,1027.30V1020.80M1770.11,686.80V694.20M1235.75,1027.30V1023.80M1235.75,686.80V690.80M1261.19,1027.30V1023.80M1261.19,686.80V690.80M1286.64,1027.30V1023.80M1286.64,686.80V690.80M1312.08,1027.30V1023.80M1312.08,686.80V690.80M1337.53,1027.30V1023.80M1337.53,686.80V690.80M1362.97,1027.30V1023.80M1362.97,686.80V690.80M1388.42,1027.30V1023.80M1388.42,686.80V690.80M1413.87,1027.30V1023.80M1413.87,686.80V690.80M1439.31,1027.30V1023.80M1439.31,686.80V690.80M1464.76,1027.30V1023.80M1464.76,686.80V690.80M1490.20,1027.30V1023.80M1490.20,686.80V690.80M1515.65,1027.30V1023.80M1515.65,686.80V690.80M1541.10,1027.30V1023.80M1541.10,686.80V690.80M1566.54,1027.30V1023.80M1566.54,686.80V690.80M1591.99,1027.30V1023.80M1591.99,686.80V690.80M1617.43,1027.30V1023.80M1617.43,686.80V690.80M1642.88,1027.30V1023.80M1642.88,686.80V690.80M1668.33,1027.30V1023.80M1668.33,686.80V690.80M1693.77,1027.30V1023.80M1693.77,686.80V690.80M1719.22,1027.30V1023.80M1719.22,686.80V690.80M1744.66,1027.30V1023.80M1744.66,686.80V690.80M1770.11,1027.30V1023.80M1770.11,686.80V690.80M1795.55,1027.30V1023.80M1795.55,686.80V690.80M1210.30,998.92H1219.80M1821.00,998.92H1811.50M1210.30,927.99H1219.80M1821.00,927.99H1811.50M1210.30,857.05H1219.80M1821.00,857.05H1811.50M1210.30,786.11H1219.80M1821.00,786.11H1811.50M1210.30,715.17H1219.80M1821.00,715.17H1811.50M1210.30,1013.11H1215.30M1821.00,1013.11H1816.00M1210.30,998.92H1215.30M1821.00,998.92H1816.00M1210.30,984.74H1215.30M1821.00,984.74H1816.00M1210.30,970.55H1215.30M1821.00,970.55H1816.00M1210.30,956.36H1215.30M1821.00,956.36H1816.00M1210.30,942.17H1215.30M1821.00,942.17H1816.00M1210.30,927.99H1215.30M1821.00,927.99H1816.00M1210.30,913.80H1215.30M1821.00,913.80H1816.00M1210.30,899.61H1215.30M1821.00,899.61H1816.00M1210.30,885.42H1215.30M1821.00,885.42H1816.00M1210.30,871.24H1215.30M1821.00,871.24H1816.00M1210.30,857.05H1215.30M1821.00,857.05H1816.00M1210.30,842.86H1215.30M1821.00,842.86H1816.00M1210.30,828.67H1215.30M1821.00,828.67H1816.00M1210.30,814.49H1215.30M1821.00,814.49H1816.00M1210.30,800.30H1215.30M1821.00,800.30H1816.00M1210.30,786.11H1215.30M1821.00,786.11H1816.00M1210.30,771.92H1215.30M1821.00,771.92H1816.00M1210.30,757.74H1215.30M1821.00,757.74H1816.00M1210.30,743.55H1215.30M1821.00,743.55H1816.00M1210.30,729.36H1215.30M1821.00,729.36H1816.00M1210.30,715.17H1215.30M1821.00,715.17H1816.00M1210.30,700.99H1215.30M1821.00,700.99H1816.00" stroke="#000" stroke-width="1.4" fill="none"/>
<g clip-path="url(#cF)"><rect x="1464.9" y="1027.3" width="101.9" height="191.8" fill="#c8c8c8"/><path d="M1210.3,1235.39H1821.0" stroke="#000" stroke-width="3.3"/><path d="M1210.1,1236.7L1221.9,1243.5L1230.4,1231.6L1235.5,1241.8L1245.6,1224.9L1255.8,1230.0L1264.3,1240.1L1271.0,1218.1L1277.8,1230.0L1284.6,1235.0L1291.4,1224.9L1296.4,1233.3L1306.6,1232.7L1311.7,1228.3L1318.4,1240.1L1323.5,1235.0L1332.0,1241.8L1337.1,1230.0L1345.5,1233.3L1352.3,1230.0L1359.1,1240.1L1367.5,1243.5L1377.7,1243.5L1382.8,1226.6L1389.6,1236.7L1394.6,1243.5L1401.4,1234.0L1408.2,1232.7L1416.6,1243.5L1428.5,1225.9L1433.6,1236.7L1443.7,1223.2L1448.8,1243.5L1457.3,1243.5L1464.1,1211.3L1470.8,1215.7L1480.0,1206.3L1486.1,1162.2L1494.5,1104.7L1505.7,1073.5L1510.8,1114.8L1515.9,1090.4L1520.6,1125.0L1526.0,1130.1L1530.8,1140.2L1535.2,1185.9L1543.6,1243.5L1564.0,1241.8L1570.7,1238.4L1574.1,1243.5L1580.9,1236.7L1589.4,1243.5L1596.1,1225.9L1606.3,1240.1L1613.1,1243.5L1621.5,1224.9L1628.3,1228.3L1634.4,1219.8L1638.5,1219.1L1645.2,1243.5L1652.0,1227.2L1658.8,1233.3L1665.5,1243.5L1682.5,1236.1L1692.6,1241.8L1702.8,1229.3L1709.6,1234.0L1719.7,1234.0L1726.5,1243.5L1729.9,1234.0L1736.7,1240.1L1743.4,1236.7L1748.5,1243.5L1753.6,1236.7L1763.8,1228.3L1770.5,1235.0L1777.3,1243.5L1782.4,1233.3L1785.8,1231.6L1792.5,1243.5L1801.0,1234.0L1807.8,1243.5L1814.5,1238.4L1820.3,1233.3" stroke="#000" stroke-width="2.4" fill="none" stroke-miterlimit="3"/></g>
<rect x="1210.30" y="1027.30" width="610.70" height="216.00" fill="none" stroke="#000" stroke-width="2.2"/><path d="M1261.19,1243.30V1238.30M1261.19,1027.30V1031.90M1362.97,1243.30V1238.30M1362.97,1027.30V1031.90M1464.76,1243.30V1238.30M1464.76,1027.30V1031.90M1566.54,1243.30V1238.30M1566.54,1027.30V1031.90M1668.33,1243.30V1238.30M1668.33,1027.30V1031.90M1770.11,1243.30V1238.30M1770.11,1027.30V1031.90M1235.75,1243.30V1241.30M1235.75,1027.30V1029.90M1261.19,1243.30V1241.30M1261.19,1027.30V1029.90M1286.64,1243.30V1241.30M1286.64,1027.30V1029.90M1312.08,1243.30V1241.30M1312.08,1027.30V1029.90M1337.53,1243.30V1241.30M1337.53,1027.30V1029.90M1362.97,1243.30V1241.30M1362.97,1027.30V1029.90M1388.42,1243.30V1241.30M1388.42,1027.30V1029.90M1413.87,1243.30V1241.30M1413.87,1027.30V1029.90M1439.31,1243.30V1241.30M1439.31,1027.30V1029.90M1464.76,1243.30V1241.30M1464.76,1027.30V1029.90M1490.20,1243.30V1241.30M1490.20,1027.30V1029.90M1515.65,1243.30V1241.30M1515.65,1027.30V1029.90M1541.10,1243.30V1241.30M1541.10,1027.30V1029.90M1566.54,1243.30V1241.30M1566.54,1027.30V1029.90M1591.99,1243.30V1241.30M1591.99,1027.30V1029.90M1617.43,1243.30V1241.30M1617.43,1027.30V1029.90M1642.88,1243.30V1241.30M1642.88,1027.30V1029.90M1668.33,1243.30V1241.30M1668.33,1027.30V1029.90M1693.77,1243.30V1241.30M1693.77,1027.30V1029.90M1719.22,1243.30V1241.30M1719.22,1027.30V1029.90M1744.66,1243.30V1241.30M1744.66,1027.30V1029.90M1770.11,1243.30V1241.30M1770.11,1027.30V1029.90M1795.55,1243.30V1241.30M1795.55,1027.30V1029.90M1210.30,1235.39H1220.10M1821.00,1235.39H1811.20M1210.30,1193.77H1220.10M1821.00,1193.77H1811.20M1210.30,1152.16H1220.10M1821.00,1152.16H1811.20M1210.30,1110.54H1220.10M1821.00,1110.54H1811.20M1210.30,1068.92H1220.10M1821.00,1068.92H1811.20M1210.30,1235.39H1215.50M1821.00,1235.39H1815.80M1210.30,1227.07H1215.50M1821.00,1227.07H1815.80M1210.30,1218.75H1215.50M1821.00,1218.75H1815.80M1210.30,1210.42H1215.50M1821.00,1210.42H1815.80M1210.30,1202.10H1215.50M1821.00,1202.10H1815.80M1210.30,1193.77H1215.50M1821.00,1193.77H1815.80M1210.30,1185.45H1215.50M1821.00,1185.45H1815.80M1210.30,1177.13H1215.50M1821.00,1177.13H1815.80M1210.30,1168.80H1215.50M1821.00,1168.80H1815.80M1210.30,1160.48H1215.50M1821.00,1160.48H1815.80M1210.30,1152.16H1215.50M1821.00,1152.16H1815.80M1210.30,1143.83H1215.50M1821.00,1143.83H1815.80M1210.30,1135.51H1215.50M1821.00,1135.51H1815.80M1210.30,1127.18H1215.50M1821.00,1127.18H1815.80M1210.30,1118.86H1215.50M1821.00,1118.86H1815.80M1210.30,1110.54H1215.50M1821.00,1110.54H1815.80M1210.30,1102.21H1215.50M1821.00,1102.21H1815.80M1210.30,1093.89H1215.50M1821.00,1093.89H1815.80M1210.30,1085.57H1215.50M1821.00,1085.57H1815.80M1210.30,1077.24H1215.50M1821.00,1077.24H1815.80M1210.30,1068.92H1215.50M1821.00,1068.92H1815.80M1210.30,1060.59H1215.50M1821.00,1060.59H1815.80M1210.30,1052.27H1215.50M1821.00,1052.27H1815.80M1210.30,1043.95H1215.50M1821.00,1043.95H1815.80M1210.30,1035.62H1215.50M1821.00,1035.62H1815.80" stroke="#000" stroke-width="2.2" fill="none"/>
<g fill="#000"><text x="51.07" y="59.16" textLength="44.28" lengthAdjust="spacingAndGlyphs" style="font-family:'Liberation Serif',serif;font-weight:normal;font-size:33.19px" stroke="#000" stroke-width="0.3">1.8</text><text x="50.77" y="150.47" textLength="44.28" lengthAdjust="spacingAndGlyphs" style="font-family:'Liberation Serif',serif;font-weight:normal;font-size:33.19px" stroke="#000" stroke-width="0.3">1.6</text><text x="50.27" y="241.78" textLength="44.28" lengthAdjust="spacingAndGlyphs" style="font-family:'Liberation Serif',serif;font-weight:normal;font-size:33.19px" stroke="#000" stroke-width="0.3">1.4</text><text x="51.67" y="333.09" textLength="44.28" lengthAdjust="spacingAndGlyphs" style="font-family:'Liberation Serif',serif;font-weight:normal;font-size:33.19px" stroke="#000" stroke-width="0.3">1.2</text><text x="51.07" y="424.40" textLength="44.28" lengthAdjust="spacingAndGlyphs" style="font-family:'Liberation Serif',serif;font-weight:normal;font-size:33.19px" stroke="#000" stroke-width="0.3">1.0</text><text x="47.33" y="515.71" textLength="48.13" lengthAdjust="spacingAndGlyphs" style="font-family:'Liberation Serif',serif;font-weight:normal;font-size:33.19px" stroke="#000" stroke-width="0.3">0.8</text><text x="85.37" y="601.80" textLength="77.01" lengthAdjust="spacingAndGlyphs" style="font-family:'Liberation Serif',serif;font-weight:normal;font-size:33.19px" stroke="#000" stroke-width="0.3">2200</text><text x="216.66" y="601.80" textLength="77.01" lengthAdjust="spacingAndGlyphs" style="font-family:'Liberation Serif',serif;font-weight:normal;font-size:33.19px" stroke="#000" stroke-width="0.3">2400</text><text x="347.94" y="601.80" textLength="77.01" lengthAdjust="spacingAndGlyphs" style="font-family:'Liberation Serif',serif;font-weight:normal;font-size:33.19px" stroke="#000" stroke-width="0.3">2600</text><text x="479.22" y="601.80" textLength="77.01" lengthAdjust="spacingAndGlyphs" style="font-family:'Liberation Serif',serif;font-weight:normal;font-size:33.19px" stroke="#000" stroke-width="0.3">2800</text><text x="610.43" y="601.80" textLength="77.01" lengthAdjust="spacingAndGlyphs" style="font-family:'Liberation Serif',serif;font-weight:normal;font-size:33.19px" stroke="#000" stroke-width="0.3">3000</text><text x="741.71" y="601.80" textLength="77.01" lengthAdjust="spacingAndGlyphs" style="font-family:'Liberation Serif',serif;font-weight:normal;font-size:33.19px" stroke="#000" stroke-width="0.3">3200</text><text x="872.99" y="601.80" textLength="77.01" lengthAdjust="spacingAndGlyphs" style="font-family:'Liberation Serif',serif;font-weight:normal;font-size:33.19px" stroke="#000" stroke-width="0.3">3400</text><text x="1004.28" y="601.80" textLength="77.01" lengthAdjust="spacingAndGlyphs" style="font-family:'Liberation Serif',serif;font-weight:normal;font-size:33.19px" stroke="#000" stroke-width="0.3">3600</text><text x="47.45" y="816.34" textLength="48.13" lengthAdjust="spacingAndGlyphs" style="font-family:'Liberation Serif',serif;font-weight:normal;font-size:33.19px" stroke="#000" stroke-width="0.3">0.9</text><text x="47.33" y="962.89" textLength="48.13" lengthAdjust="spacingAndGlyphs" style="font-family:'Liberation Serif',serif;font-weight:normal;font-size:33.19px" stroke="#000" stroke-width="0.3">0.8</text><text x="46.98" y="1109.45" textLength="48.13" lengthAdjust="spacingAndGlyphs" style="font-family:'Liberation Serif',serif;font-weight:normal;font-size:33.19px" stroke="#000" stroke-width="0.3">0.7</text><text x="47.01" y="1256.00" textLength="48.13" lengthAdjust="spacingAndGlyphs" style="font-family:'Liberation Serif',serif;font-weight:normal;font-size:33.19px" stroke="#000" stroke-width="0.3">0.6</text><text x="172.44" y="1288.00" textLength="74.26" lengthAdjust="spacingAndGlyphs" style="font-family:'Liberation Serif',serif;font-weight:normal;font-size:32.01px" stroke="#000" stroke-width="0.3">3600</text><text x="348.70" y="1288.00" textLength="74.26" lengthAdjust="spacingAndGlyphs" style="font-family:'Liberation Serif',serif;font-weight:normal;font-size:32.01px" stroke="#000" stroke-width="0.3">3650</text><text x="524.96" y="1288.00" textLength="74.26" lengthAdjust="spacingAndGlyphs" style="font-family:'Liberation Serif',serif;font-weight:normal;font-size:32.01px" stroke="#000" stroke-width="0.3">3700</text><text x="701.22" y="1288.00" textLength="74.26" lengthAdjust="spacingAndGlyphs" style="font-family:'Liberation Serif',serif;font-weight:normal;font-size:32.01px" stroke="#000" stroke-width="0.3">3750</text><text x="877.48" y="1288.00" textLength="74.26" lengthAdjust="spacingAndGlyphs" style="font-family:'Liberation Serif',serif;font-weight:normal;font-size:32.01px" stroke="#000" stroke-width="0.3">3800</text><text x="1145.52" y="18.10" textLength="56.20" lengthAdjust="spacingAndGlyphs" style="font-family:'Liberation Serif',serif;font-weight:normal;font-size:24.90px" stroke="#000" stroke-width="0.7">0.20</text><text x="1145.55" y="88.38" textLength="56.20" lengthAdjust="spacingAndGlyphs" style="font-family:'Liberation Serif',serif;font-weight:normal;font-size:24.90px" stroke="#000" stroke-width="0.7">0.15</text><text x="1145.52" y="165.85" textLength="56.20" lengthAdjust="spacingAndGlyphs" style="font-family:'Liberation Serif',serif;font-weight:normal;font-size:24.90px" stroke="#000" stroke-width="0.7">0.10</text><text x="1145.55" y="243.33" textLength="56.20" lengthAdjust="spacingAndGlyphs" style="font-family:'Liberation Serif',serif;font-weight:normal;font-size:24.90px" stroke="#000" stroke-width="0.7">0.05</text><text x="1145.52" y="320.81" textLength="56.20" lengthAdjust="spacingAndGlyphs" style="font-family:'Liberation Serif',serif;font-weight:normal;font-size:24.90px" stroke="#000" stroke-width="0.7">0.00</text><text x="1146.27" y="387.72" textLength="55.53" lengthAdjust="spacingAndGlyphs" style="font-family:'Liberation Serif',serif;font-weight:normal;font-size:24.60px" stroke="#000" stroke-width="0.8">0.08</text><text x="1146.01" y="427.62" textLength="55.53" lengthAdjust="spacingAndGlyphs" style="font-family:'Liberation Serif',serif;font-weight:normal;font-size:24.60px" stroke="#000" stroke-width="0.8">0.06</text><text x="1145.56" y="467.53" textLength="55.53" lengthAdjust="spacingAndGlyphs" style="font-family:'Liberation Serif',serif;font-weight:normal;font-size:24.60px" stroke="#000" stroke-width="0.8">0.04</text><text x="1146.82" y="507.44" textLength="55.53" lengthAdjust="spacingAndGlyphs" style="font-family:'Liberation Serif',serif;font-weight:normal;font-size:24.60px" stroke="#000" stroke-width="0.8">0.02</text><text x="1146.27" y="547.35" textLength="55.53" lengthAdjust="spacingAndGlyphs" style="font-family:'Liberation Serif',serif;font-weight:normal;font-size:24.60px" stroke="#000" stroke-width="0.8">0.00</text><text x="1145.42" y="725.47" textLength="56.20" lengthAdjust="spacingAndGlyphs" style="font-family:'Liberation Serif',serif;font-weight:normal;font-size:24.90px" stroke="#000" stroke-width="0.0">0.20</text><text x="1145.45" y="796.41" textLength="56.20" lengthAdjust="spacingAndGlyphs" style="font-family:'Liberation Serif',serif;font-weight:normal;font-size:24.90px" stroke="#000" stroke-width="0.0">0.15</text><text x="1145.42" y="867.35" textLength="56.20" lengthAdjust="spacingAndGlyphs" style="font-family:'Liberation Serif',serif;font-weight:normal;font-size:24.90px" stroke="#000" stroke-width="0.0">0.10</text><text x="1145.45" y="938.29" textLength="56.20" lengthAdjust="spacingAndGlyphs" style="font-family:'Liberation Serif',serif;font-weight:normal;font-size:24.90px" stroke="#000" stroke-width="0.0">0.05</text><text x="1145.42" y="1009.22" textLength="56.20" lengthAdjust="spacingAndGlyphs" style="font-family:'Liberation Serif',serif;font-weight:normal;font-size:24.90px" stroke="#000" stroke-width="0.0">0.00</text><text x="1145.75" y="1044.10" textLength="56.20" lengthAdjust="spacingAndGlyphs" style="font-family:'Liberation Serif',serif;font-weight:normal;font-size:24.90px" stroke="#000" stroke-width="0.8">0.25</text><text x="1145.72" y="1078.92" textLength="56.20" lengthAdjust="spacingAndGlyphs" style="font-family:'Liberation Serif',serif;font-weight:normal;font-size:24.90px" stroke="#000" stroke-width="0.8">0.20</text><text x="1145.75" y="1120.54" textLength="56.20" lengthAdjust="spacingAndGlyphs" style="font-family:'Liberation Serif',serif;font-weight:normal;font-size:24.90px" stroke="#000" stroke-width="0.8">0.15</text><text x="1145.72" y="1162.16" textLength="56.20" lengthAdjust="spacingAndGlyphs" style="font-family:'Liberation Serif',serif;font-weight:normal;font-size:24.90px" stroke="#000" stroke-width="0.8">0.10</text><text x="1145.75" y="1203.77" textLength="56.20" lengthAdjust="spacingAndGlyphs" style="font-family:'Liberation Serif',serif;font-weight:normal;font-size:24.90px" stroke="#000" stroke-width="0.8">0.05</text><text x="1145.72" y="1245.39" textLength="56.20" lengthAdjust="spacingAndGlyphs" style="font-family:'Liberation Serif',serif;font-weight:normal;font-size:24.90px" stroke="#000" stroke-width="0.8">0.00</text><text x="1202.55" y="594.70" textLength="62.57" lengthAdjust="spacingAndGlyphs" style="font-family:'Liberation Serif',serif;font-weight:normal;font-size:26.97px" stroke="#000" stroke-width="0.8">3250</text><text x="1319.99" y="594.70" textLength="62.57" lengthAdjust="spacingAndGlyphs" style="font-family:'Liberation Serif',serif;font-weight:normal;font-size:26.97px" stroke="#000" stroke-width="0.8">3300</text><text x="1437.43" y="594.70" textLength="62.57" lengthAdjust="spacingAndGlyphs" style="font-family:'Liberation Serif',serif;font-weight:normal;font-size:26.97px" stroke="#000" stroke-width="0.8">3350</text><text x="1554.88" y="594.70" textLength="62.57" lengthAdjust="spacingAndGlyphs" style="font-family:'Liberation Serif',serif;font-weight:normal;font-size:26.97px" stroke="#000" stroke-width="0.8">3400</text><text x="1672.32" y="594.70" textLength="62.57" lengthAdjust="spacingAndGlyphs" style="font-family:'Liberation Serif',serif;font-weight:normal;font-size:26.97px" stroke="#000" stroke-width="0.8">3450</text><text x="1229.28" y="1280.50" textLength="62.71" lengthAdjust="spacingAndGlyphs" style="font-family:'Liberation Serif',serif;font-weight:normal;font-size:27.27px" stroke="#000" stroke-width="0.8">3680</text><text x="1331.06" y="1280.50" textLength="62.71" lengthAdjust="spacingAndGlyphs" style="font-family:'Liberation Serif',serif;font-weight:normal;font-size:27.27px" stroke="#000" stroke-width="0.8">3700</text><text x="1432.85" y="1280.50" textLength="62.71" lengthAdjust="spacingAndGlyphs" style="font-family:'Liberation Serif',serif;font-weight:normal;font-size:27.27px" stroke="#000" stroke-width="0.8">3720</text><text x="1534.63" y="1280.50" textLength="62.71" lengthAdjust="spacingAndGlyphs" style="font-family:'Liberation Serif',serif;font-weight:normal;font-size:27.27px" stroke="#000" stroke-width="0.8">3740</text><text x="1636.41" y="1280.50" textLength="62.71" lengthAdjust="spacingAndGlyphs" style="font-family:'Liberation Serif',serif;font-weight:normal;font-size:27.27px" stroke="#000" stroke-width="0.8">3760</text><text x="1738.20" y="1280.50" textLength="62.71" lengthAdjust="spacingAndGlyphs" style="font-family:'Liberation Serif',serif;font-weight:normal;font-size:27.27px" stroke="#000" stroke-width="0.8">3780</text><text transform="translate(357.20,638.60)" y="0" stroke="#000" stroke-width="0.15"><tspan x="-1.62" textLength="112.07" lengthAdjust="spacingAndGlyphs" style="font-family:'Liberation Serif',serif;font-weight:normal;font-size:32.22px">Quasar</tspan> <tspan x="126.69" textLength="68.54" lengthAdjust="spacingAndGlyphs" style="font-family:'Liberation Serif',serif;font-weight:normal;font-size:32.22px">Rest</tspan> <tspan x="214.06" textLength="176.22" lengthAdjust="spacingAndGlyphs" style="font-family:'Liberation Serif',serif;font-weight:normal;font-size:32.22px">Wavelength</tspan> <tspan x="407.47" textLength="39.75" lengthAdjust="spacingAndGlyphs" style="font-family:'Liberation Serif',serif;font-weight:normal;font-size:32.22px">[Å]</tspan></text><text transform="translate(357.10,1324.80)" y="0" stroke="#000" stroke-width="0.15"><tspan x="-1.63" textLength="112.27" lengthAdjust="spacingAndGlyphs" style="font-family:'Liberation Serif',serif;font-weight:normal;font-size:32.07px">Quasar</tspan> <tspan x="127.61" textLength="67.52" lengthAdjust="spacingAndGlyphs" style="font-family:'Liberation Serif',serif;font-weight:normal;font-size:32.07px">Rest</tspan> <tspan x="214.56" textLength="175.72" lengthAdjust="spacingAndGlyphs" style="font-family:'Liberation Serif',serif;font-weight:normal;font-size:32.07px">Wavelength</tspan> <tspan x="407.39" textLength="39.53" lengthAdjust="spacingAndGlyphs" style="font-family:'Liberation Serif',serif;font-weight:normal;font-size:32.07px">[Å]</tspan></text><text transform="translate(1329.00,625.60)" y="0" stroke="#000" stroke-width="0.8"><tspan x="-1.35" textLength="93.24" lengthAdjust="spacingAndGlyphs" style="font-family:'Liberation Serif',serif;font-weight:normal;font-size:28.56px">Quasar</tspan> <tspan x="105.68" textLength="56.71" lengthAdjust="spacingAndGlyphs" style="font-family:'Liberation Serif',serif;font-weight:normal;font-size:28.56px">Rest</tspan> <tspan x="178.27" textLength="147.03" lengthAdjust="spacingAndGlyphs" style="font-family:'Liberation Serif',serif;font-weight:normal;font-size:28.56px">Wavelength</tspan> <tspan x="340.27" textLength="32.36" lengthAdjust="spacingAndGlyphs" style="font-family:'Liberation Serif',serif;font-weight:normal;font-size:28.56px">[Å]</tspan></text><text transform="translate(1329.00,1312.00)" y="0" stroke="#000" stroke-width="0.8"><tspan x="-1.35" textLength="93.24" lengthAdjust="spacingAndGlyphs" style="font-family:'Liberation Serif',serif;font-weight:normal;font-size:28.56px">Quasar</tspan> <tspan x="105.68" textLength="56.71" lengthAdjust="spacingAndGlyphs" style="font-family:'Liberation Serif',serif;font-weight:normal;font-size:28.56px">Rest</tspan> <tspan x="178.27" textLength="147.03" lengthAdjust="spacingAndGlyphs" style="font-family:'Liberation Serif',serif;font-weight:normal;font-size:28.56px">Wavelength</tspan> <tspan x="340.27" textLength="32.36" lengthAdjust="spacingAndGlyphs" style="font-family:'Liberation Serif',serif;font-weight:normal;font-size:28.56px">[Å]</tspan></text><text transform="translate(22.00,480.50) rotate(-90)" y="0" stroke="#000" stroke-width="0.15"><tspan x="-1.11" textLength="182.59" lengthAdjust="spacingAndGlyphs" style="font-family:'Liberation Serif',serif;font-weight:normal;font-size:32.84px">Normalized</tspan> <tspan x="198.94" textLength="67.20" lengthAdjust="spacingAndGlyphs" style="font-family:'Liberation Serif',serif;font-weight:normal;font-size:32.84px">Flux</tspan> <tspan x="283.71" textLength="117.74" lengthAdjust="spacingAndGlyphs" style="font-family:'Liberation Serif',serif;font-weight:normal;font-size:32.84px">Density</tspan></text><text transform="translate(22.10,1166.60) rotate(-90)" y="0" stroke="#000" stroke-width="0.15"><tspan x="-1.11" textLength="182.28" lengthAdjust="spacingAndGlyphs" style="font-family:'Liberation Serif',serif;font-weight:normal;font-size:33.29px">Normalized</tspan> <tspan x="198.64" textLength="67.71" lengthAdjust="spacingAndGlyphs" style="font-family:'Liberation Serif',serif;font-weight:normal;font-size:33.29px">Flux</tspan> <tspan x="283.70" textLength="118.34" lengthAdjust="spacingAndGlyphs" style="font-family:'Liberation Serif',serif;font-weight:normal;font-size:33.29px">Density</tspan></text><text transform="translate(1125.30,339.00) rotate(-90)" y="0" stroke="#000" stroke-width="0.4"><tspan x="-0.93" textLength="151.92" lengthAdjust="spacingAndGlyphs" style="font-family:'Liberation Serif',serif;font-weight:normal;font-size:28.41px">Normalized</tspan> <tspan x="165.92" textLength="55.95" lengthAdjust="spacingAndGlyphs" style="font-family:'Liberation Serif',serif;font-weight:normal;font-size:28.41px">Flux</tspan> <tspan x="236.69" textLength="98.13" lengthAdjust="spacingAndGlyphs" style="font-family:'Liberation Serif',serif;font-weight:normal;font-size:28.41px">Density</tspan></text><text transform="translate(1124.80,1024.60) rotate(-90)" y="0"><tspan x="-0.93" textLength="151.72" lengthAdjust="spacingAndGlyphs" style="font-family:'Liberation Serif',serif;font-weight:normal;font-size:26.42px">Normalized</tspan> <tspan x="165.31" textLength="56.46" lengthAdjust="spacingAndGlyphs" style="font-family:'Liberation Serif',serif;font-weight:normal;font-size:26.42px">Flux</tspan> <tspan x="236.19" textLength="98.54" lengthAdjust="spacingAndGlyphs" style="font-family:'Liberation Serif',serif;font-weight:normal;font-size:26.42px">Density</tspan></text><text transform="translate(1125.30,542.00) rotate(-90)" y="0" stroke="#000" stroke-width="1.0"><tspan x="-0.93" textLength="112.98" lengthAdjust="spacingAndGlyphs" style="font-family:'Liberation Serif',serif;font-weight:normal;font-size:28.25px">Residual</tspan> <tspan x="126.61" textLength="56.77" lengthAdjust="spacingAndGlyphs" style="font-family:'Liberation Serif',serif;font-weight:normal;font-size:28.25px">Flux</tspan></text><text transform="translate(1125.30,1227.00) rotate(-90)" y="0" stroke="#000" stroke-width="1.0"><tspan x="-0.93" textLength="112.57" lengthAdjust="spacingAndGlyphs" style="font-family:'Liberation Serif',serif;font-weight:normal;font-size:28.25px">Residual</tspan> <tspan x="125.81" textLength="56.77" lengthAdjust="spacingAndGlyphs" style="font-family:'Liberation Serif',serif;font-weight:normal;font-size:28.25px">Flux</tspan></text><text x="131.39" y="78.55" textLength="60.82" lengthAdjust="spacingAndGlyphs" style="font-family:'Liberation Serif',serif;font-weight:normal;font-size:48.64px" fill="#000" stroke="#000" stroke-width="0.8">(a)</text><text x="1238.74" y="65.01" textLength="60.02" lengthAdjust="spacingAndGlyphs" style="font-family:'Liberation Serif',serif;font-weight:normal;font-size:47.86px" fill="#000" stroke="#000" stroke-width="0.8">(b)</text><text x="1238.37" y="419.13" textLength="58.75" lengthAdjust="spacingAndGlyphs" style="font-family:'Liberation Serif',serif;font-weight:normal;font-size:47.75px" fill="#000" stroke="#000" stroke-width="0.8">(c)</text><text x="131.88" y="764.35" textLength="61.43" lengthAdjust="spacingAndGlyphs" style="font-family:'Liberation Serif',serif;font-weight:normal;font-size:47.20px" fill="#000" stroke="#000" stroke-width="0.8">(d)</text><text x="1238.18" y="750.79" textLength="66.14" lengthAdjust="spacingAndGlyphs" style="font-family:'Liberation Serif',serif;font-weight:normal;font-size:53.60px" fill="#000" stroke="#000" stroke-width="0.8">(e)</text><text x="1238.04" y="1104.97" textLength="58.22" lengthAdjust="spacingAndGlyphs" style="font-family:'Liberation Serif',serif;font-weight:normal;font-size:54.15px" fill="#000" stroke="#000" stroke-width="0.8">(f)</text><text x="764.66" y="78.90" textLength="164.81" lengthAdjust="spacingAndGlyphs" style="font-family:'Liberation Serif',serif;font-weight:normal;font-size:49.79px" fill="#000" stroke="#000" stroke-width="0.8">LoNALs</text><text x="1621.21" y="65.40" textLength="146.98" lengthAdjust="spacingAndGlyphs" style="font-family:'Liberation Serif',serif;font-weight:normal;font-size:42.30px" fill="#000" stroke="#000" stroke-width="0.8">LoNALs</text><text x="808.47" y="765.00" textLength="164.30" lengthAdjust="spacingAndGlyphs" style="font-family:'Liberation Serif',serif;font-weight:normal;font-size:49.94px" fill="#000" stroke="#000" stroke-width="0.8">LoNALs</text><text x="1651.01" y="751.40" textLength="146.98" lengthAdjust="spacingAndGlyphs" style="font-family:'Liberation Serif',serif;font-weight:normal;font-size:44.90px" fill="#000" stroke="#000" stroke-width="0.8">LoNALs</text><text style="font-family:'Liberation Serif',serif" stroke="#000" stroke-width="0.7"><tspan x="871.47" y="401.46" textLength="14.06" lengthAdjust="spacingAndGlyphs" style="font-size:47.36px">[</tspan><tspan x="884.27" y="398.90" textLength="49.60" lengthAdjust="spacingAndGlyphs" style="font-size:39.25px">Ne</tspan> <tspan x="952.40" y="398.90" textLength="25.49" lengthAdjust="spacingAndGlyphs" style="font-size:39.25px">V</tspan><tspan x="976.31" y="401.46" textLength="13.76" lengthAdjust="spacingAndGlyphs" style="font-size:47.36px">]</tspan></text><text style="font-family:'Liberation Serif',serif" stroke="#000" stroke-width="0.7"><tspan x="1577.00" y="401.20" textLength="14.36" lengthAdjust="spacingAndGlyphs" style="font-size:49.30px">[</tspan><tspan x="1590.19" y="398.30" textLength="52.98" lengthAdjust="spacingAndGlyphs" style="font-size:41.23px">Ne</tspan> <tspan x="1663.79" y="398.30" textLength="26.63" lengthAdjust="spacingAndGlyphs" style="font-size:41.23px">V</tspan><tspan x="1688.93" y="401.20" textLength="14.51" lengthAdjust="spacingAndGlyphs" style="font-size:49.30px">]</tspan></text><text style="font-family:'Liberation Serif',serif" stroke="#000" stroke-width="0.7"><tspan x="684.60" y="837.53" textLength="16.15" lengthAdjust="spacingAndGlyphs" style="font-size:51.35px">[</tspan><tspan x="702.55" y="834.90" textLength="25.50" lengthAdjust="spacingAndGlyphs" style="font-size:42.76px">O</tspan> <tspan x="748.16" y="834.90" textLength="24.64" lengthAdjust="spacingAndGlyphs" style="font-size:42.76px">II</tspan><tspan x="775.84" y="837.53" textLength="15.26" lengthAdjust="spacingAndGlyphs" style="font-size:51.35px">]</tspan></text><text style="font-family:'Liberation Serif',serif" stroke="#000" stroke-width="0.7"><tspan x="1463.03" y="1073.40" textLength="15.11" lengthAdjust="spacingAndGlyphs" style="font-size:51.59px">[</tspan><tspan x="1479.48" y="1070.80" textLength="26.74" lengthAdjust="spacingAndGlyphs" style="font-size:41.39px">O</tspan> <tspan x="1525.38" y="1070.80" textLength="24.41" lengthAdjust="spacingAndGlyphs" style="font-size:41.39px">II</tspan><tspan x="1553.86" y="1073.40" textLength="15.11" lengthAdjust="spacingAndGlyphs" style="font-size:51.59px">]</tspan></text></g>
</svg>
</body></html>
